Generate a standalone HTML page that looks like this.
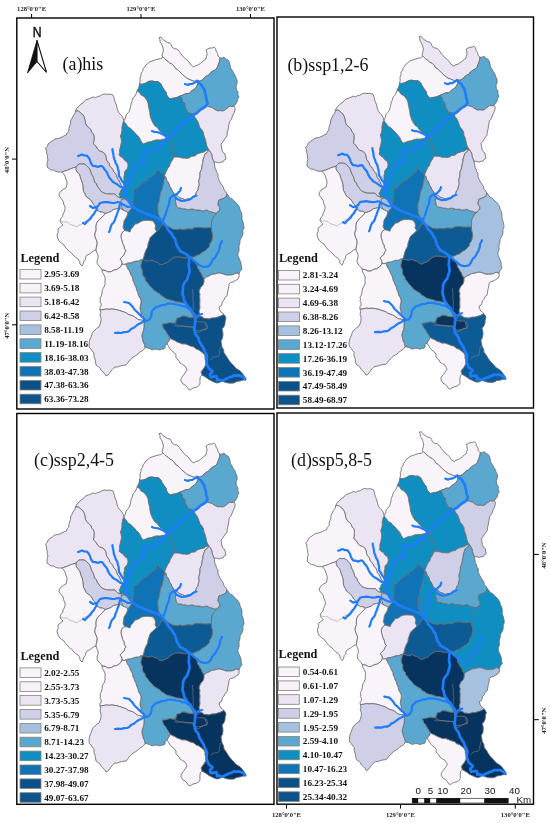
<!DOCTYPE html>
<html><head><meta charset="utf-8"><title>Figure</title>
<style>html,body{margin:0;padding:0;background:#fff}body{width:550px;height:823px;overflow:hidden}svg{display:block}.t{font-family:"Liberation Serif",serif;fill:#111}.lb{font-family:"Liberation Serif",serif;font-weight:bold;font-size:9.2px;fill:#111}.lg{font-family:"Liberation Serif",serif;font-weight:bold;font-size:12.3px;fill:#111}.ax{font-family:"Liberation Serif",serif;font-weight:bold;font-size:6.6px;fill:#222;text-anchor:middle}.sb{font-family:"Liberation Sans",sans-serif;font-size:9.8px;fill:#111}.pg polygon{stroke:#6b6b6b;stroke-width:.85;stroke-linejoin:round}.gl polyline{fill:none;stroke:#8c8c8c;stroke-width:.5}.rv polyline{fill:none;stroke:#1f7dfa;stroke-width:2.2;stroke-linejoin:round;stroke-linecap:round}.rm polyline{fill:none;stroke:#1f7dfa;stroke-width:2.7;stroke-linejoin:round;stroke-linecap:round}.fr{fill:#fff;stroke:#000;stroke-width:1.4}.tk{stroke:#000;stroke-width:1}.sw{stroke:#828282;stroke-width:.8}</style></head><body>
<svg width="550" height="823" viewBox="0 0 550 823">
<rect x="0" y="0" width="550" height="823" fill="#fff"/>
<defs>
<g id="gl" class="gl">
<polyline points="60,221 62.9,221.9 66,222 68.2,222.5 69.8,224.3 72,225 74.6,225.8 77,227 78.7,225.2 81.1,224.5 83,223 84.7,221 87.4,220.1 89,218 90.8,216.2 93,215 94.2,212.8 96,211"/>
<polyline points="192.7,289 192.3,291.8 193.2,294.5 192.8,297.3 193,300 193.4,302.8 193.1,305.5 193.5,308.2 193,311"/>
<polyline points="174,325.5 176.1,326.2 178.3,326.3 180.5,326 183,325.9 185.3,326.7 187.7,327 190.9,327.1 194,328"/>
<polyline points="196,333 198.7,332.5 201,331 203.8,329.4 207,329 207.7,325.5 206,322.7"/>
<polyline points="210.5,360 212,358.2 214,357 216.4,356.8 218.6,356 219.4,354.1 219.5,352 220,349.5 220.5,347"/>
</g>
<g id="rv"><g class="rv">
<polyline points="185,84 188,85 189.9,84 192,84 195,82.4 197,81"/>
<polyline points="152,131 153.9,131.8 156,132 158.1,132.3 160,133 162,134.1 164,135 165.6,136.1 167,137.5"/>
<polyline points="78,156 80.1,155.4 82,154.4 84.4,155.5 87,155.6 88.7,157.7 90,160 90.6,162.2 91.6,164.2 93,166 95.6,166.1 98,167 99.9,166.1 102,166 103.4,167.6 104.5,169.5 106,171 107.2,172.9 108,175 109,177 110.2,178.8 111.7,180.3 113,182 115.6,183.4 118,185 120.3,186.8 123,188 126,190"/>
<polyline points="112.4,149 112.7,151.4 113.3,153.7 113.6,156 114,158.4 115,160.6 115.6,163 116.8,164.8 117.6,166.8 118,169 118.7,171.3 118.8,173.7 119,176 120.7,178.4 122,181 123.9,183.3 125,186"/>
<polyline points="90,206 93,208 95,207.4 97,207 98.6,205.1 100,203 103,202.4 106,202 109,202.4 112,203 115.1,202.8 118,202 120.2,202.6 122,204 124,204.9 126,206 127.9,206.9 130,207"/>
<polyline points="97,207 96.5,209.7 95,212 93.8,214.2 92,216 90.8,218.2 89,220 86.8,221.8 85,224 83,223"/>
<polyline points="120,204 119.4,206.5 119,209 117.9,211.5 117,214 116.4,216 115.4,217.9 115,220 113.8,222.2 112,224 111.1,225.9 110.4,227.9 110,230 109,232"/>
<polyline points="181,188 180,191 178.4,192.4 177,194 174,195 175.4,197.1 177,199 179.4,200.1 182,201 185,200.7 188,200 190.8,198.9 193,197 196.4,195.6"/>
<polyline points="174,195 171.8,196.2 170,198 169.5,201 169,204 168.4,206 167.3,207.9 167,210 166.1,211.9 165.8,214 165,216 164,218.5 163,221"/>
<polyline points="190,257 192.1,258.9 194,261 195.8,262.2 197.5,263.4 199,265 201.4,266.2 204,267 206.5,266.7 209,266 210.8,263.7 212,261 213.1,259.2 214.9,257.9 216,256 216.9,253.9 218.3,252.1 219,250 219.8,247.6 220,245 221.1,243 222,241"/>
<polyline points="191,310 188.4,308.6 186,307 184.1,306.1 181.8,306.2 180,305 177,304.7 174,304 171,303.7 168,303.6 165.1,304.8 162,305 160.1,305.9 158.1,306.5 156,307 154,309 152,311 151.5,314 151,317 149,320 147.1,320.7 145,320.5"/>
<polyline points="124,302 126.5,302.5 129,303 130.5,304.5 132,306 133.3,307.7 134.4,309.5 136,311 138.1,312.9 140,315 141.7,316.6 143.7,318 145,320"/>
<polyline points="115,333 118,332.7 121,333 123.9,332.1 127,332 129.3,330.9 131,329 133.7,327.8 136,326 138.3,324.2 141,323 143.3,321.6 146,321"/>
<polyline points="202,314 199,315 196,317"/>
</g><g class="rm">
<polyline points="197,81 199,83 200.7,84.3 202,86 203.2,88 204.5,90 205,93.1 206,96 206.1,98.6 207,101 207.5,103.5 205.5,106.5 203.7,107.7 201.8,108.7 200,110 198.2,111.8 196.3,113.4 194,114.5 192,116 190,117.5 188,119 186.1,120.8 183.9,122.4 182.3,124.6 180,126 177.9,127.9 176.3,130.3 174,132 172,133.8 170,135.5 168.8,137.1 167,138 165.3,140 163.9,142.2 162,144 160.2,145.9 157.7,147 156,149 154.1,150 152,150.4 150,151 147,151.1 144,151 143.7,153.5 143,156 143.9,158.9 144,162 141.8,162.7 140,164 137.4,164.8 135,166 133.9,168.3 132,170 131.7,172.8 130.4,175.3 130,178 128.6,180.5 128.2,183.4 127,186 126.3,188.1 125,190 126,192.9 126,196 126.5,198.2 128.2,199.9 129,202 130.5,204 132,206 134,207.3 136,208.6 138,210 139.9,211.2 142.1,211.9 144,213 146,213.6 148,214.5 150,215 151.9,216.1 154.1,216.4 156,217.5 158.2,217.9 159.8,219.7 162,220 163,222.2 164.4,224.1 166,226 167.2,228.1 168.4,230.2 170,232 172,234.1 173.2,236.7 175,239 175.6,241.4 176.4,243.6 177,246 178.7,248.4 180,251 182.1,251.9 184,253 186,254 187.8,255.8 190,257 189,259.9 189,263 188.7,265.4 189,267.7 189.6,270 189.4,272.4 188.6,274.7 188,277 187,279.8 185,282 183.9,283.9 183.1,285.8 183,288 182.8,291 182.4,294 183.5,296.9 184,300 185.3,302.6 187,305 188.1,306.9 190,308.1 191,310 192.1,312.3 194,314 195,315.9 195.6,318 195.2,320.5 195,323 194.7,326 194,329 195,330.9 194.9,333.1 196,335 198,337.2 199,340 199.6,342.2 201,344 202,346 203.4,347.8 204.1,350 205,352 206.2,354.4 207,357 206.5,360 206.5,363 207.5,365.5 208.5,368 210.5,369.6 212.5,371.2 211.5,372.9 210,374 210.7,377.2 213.6,376.6 216.5,376.4 217,378.3 217,380.2 219.2,379.7 221.3,380.6 223.5,380.4 225.4,379 227.7,378.4 229.6,377.2 231.9,376.8 233.7,375.4 236.7,375.6 239.7,375.4 241.6,376.4 243.5,377.4 245,379"/>
</g></g>
</defs>
<rect class="fr" x="16.8" y="18" width="257.2" height="391"/>
<rect class="fr" x="277" y="17" width="256.5" height="391"/>
<rect class="fr" x="16.8" y="413.5" width="257.2" height="390.8"/>
<rect class="fr" x="277" y="413" width="256.5" height="391.2"/>
<svg x="16.8" y="18" width="257.2" height="391" viewBox="16.8 18 257.2 391">
<g transform="translate(0 0)">
<g class="pg">
<polygon fill="#f9f3fa" points="159,37.6 161,37 162.7,39.3 165,41 167.3,42.4 170,43 171.3,44.8 172,47 174.2,48.7 177,49 179.3,51.3 181,54 182.9,56.1 184.7,58.3 187,60 189,62 191,65 194,67 195.7,65.5 198,65 200.1,63.6 202,62 203.9,60.4 206,59 206.3,56.9 207,55 206.8,52.4 206,50 207.9,48.9 210,48 212.1,48 214,47 215.6,48.7 216,51 217.6,53.3 218,56 220,58 219.7,60.5 219,63 217.9,65.5 217,68 215.2,69.8 213,71 210.6,72.6 209,75 206.3,76.2 204,78 202.4,80 200,81 197,81 195,81.4 193,81 190.5,79.9 188,79 185.4,77.1 183,75 181.3,73.4 179.7,71.7 178,70 175.5,68.5 174,66 172,64 169.7,63.1 168,61.3 166,60 164.5,58.5 163,57 162,56 162.5,54 163,52 163.4,50 163,48 162.3,45.9 161.4,43.8 160,42 160,39.7"/>
<polygon fill="#f9f3fa" points="163,57 164.5,58.5 166,60 168,61.3 169.7,63.1 172,64 174,66 175.5,68.5 178,70 179.7,71.7 181.3,73.4 183,75 185.4,77.1 188,79 190.5,79.9 193,81 195,81.4 197,81 198,83 197,86 195.4,88.4 193,90 190.8,91.6 189,93.6 185.8,93.6 183,95 180,96 177.6,97.2 175,98 172.5,98.3 170,99 168,97 166.5,94.7 166,92 164.3,90.1 163,88 161.8,86.1 161,84 158,81.6 155,81.6 152,81 148.8,81.3 146,83 143.9,83.8 141.8,84.3 139.5,84 140.2,81 140,78 141,75.6 141,73 142.6,71.3 143,69 144.6,67.1 146,65 147.8,63.4 149.7,61.9 152,61 155,60 158,59 160.8,58.7"/>
<polygon fill="#5aa8d0" points="197,81 200,81 202.4,80 204,78 206.3,76.2 209,75 210.6,72.6 213,71 215.2,69.8 217,68 217.9,65.5 219,63 219.7,60.5 220,58 222.2,58.1 224,57 225.6,59 228,60 229.4,62.3 230,65 230.5,67.7 232,70 233.4,72.5 235,75 235.8,77.6 237,80 237.2,83.1 236,86 236.3,89.2 238,92 237.8,94.6 239,97 237.5,99.3 237,102 235.6,104.1 234,106 232,106.7 230,106 228.1,107.6 226,109 224.3,110.6 222,111 220,110.5 218,111 216,110.1 214,109 212.2,107.6 210,107 208,106.4 206,106 203,108 200.9,109.3 199,111 196.8,113.4 194,115 191.2,113.4 188,113 187.1,110.6 185.7,108.5 185,106 184.7,103.4 182.4,101.6 182,99 180,96 183,95 185.8,93.6 189,93.6 190.8,91.6 193,90 195.4,88.4 197,86 198,83"/>
<polygon fill="#0f8ec2" points="137,91 138.5,88 139.2,86.1 139.5,84 141.8,84.3 143.9,83.8 146,83 148.8,81.3 152,81 155,81.6 158,81.6 161,84 161.8,86.1 163,88 164.3,90.1 166,92 166.5,94.7 168,97 170,99 172.5,98.3 175,98 177.6,97.2 180,96 182,99 182.4,101.6 184.7,103.4 185,106 185.7,108.5 187.1,110.6 188,113 191.2,113.4 194,115 195.2,117.7 197,120 198.2,122.4 199,125 200,127.8 202,130 203.6,132.8 204,136 205.2,138.9 206,142 206.5,144.9 207.5,147.5 209,150 206.3,150.5 204,152 202,152.4 200,153 197.2,154 195,156 191.8,156.3 189,158 186.7,158.4 184.3,158.1 182,158 179.5,157.3 177,157 174,157 174,154.5 173.6,152 172.6,149.1 172,146 171.2,143.7 170.2,141.5 170,139 167,137 165.1,135.9 164,134 161.3,132.3 159,130 157.4,127.6 155,126 153.3,123.6 152,121 150.8,118.1 150,115 149.8,112 149,109 148.4,106 148,103 147.2,100.9 146,99 143.9,96.5 141,95 139.5,92.5"/>
<polygon fill="#0f8ec2" points="124,121 125,123 126.7,124.8 128,127 130.9,128.5 133,131 134.9,132.5 136.3,134.4 138,136 139.8,138.3 141,141 143,144 145.5,143.1 148,142 151.1,141.6 154,140.4 157,139.8 160,140 162.5,139.3 165,139 167,137 170,139 170.2,141.5 171.2,143.7 172,146 172.6,149.1 173.6,152 174,154.5 174,157 173,159 171.5,161.5 170,164 169.6,166.3 167.9,167.9 167,170 165.6,172.9 164.5,176 163.2,173.8 161,172.5 159.3,170.8 157.3,169.6 156.2,172.2 154.3,174 152.4,176 149.5,177.5 147.5,180 144.7,181.4 142.5,183.5 140.2,184.9 138.5,187 136.3,189 133.5,190 134.1,193 133.5,196 133.5,198.7 133.1,201.3 132.7,204 129.5,202 127.2,200.2 124.5,199 122.3,198.1 120,198 120,195.9 119,194 120.3,192.2 121,190 123,188 124,185.4 123.5,182.6 124,180 123.8,177 124.5,174 124.6,171.8 126,170 127.4,168.2 128,166 127.8,163.9 127,162 124.6,160.4 123,158 120.8,156.7 119,155 119.7,152.5 119.5,150 120.4,147 121,144 121.5,141.3 121.1,138.6 120.4,136 121.5,133.1 122,130 121.8,127.6 122.4,125.4 122.8,123.1"/>
<polygon fill="#ebe5f3" points="194,115 196.8,113.4 199,111 200.9,109.3 203,108 206,106 208,106.4 210,107 212.2,107.6 214,109 216,110.1 218,111 220,110.5 222,111 224.3,110.6 226,109 228.1,107.6 230,106 232,106.7 234,106 235.1,107.8 235,110 234.2,112.6 233,115 232,117.5 231,120 229.4,121.7 229,124 228.5,127 228,130 227.2,133 227,136 225.5,138 224,140 222.8,142.2 221,144 221.6,147 222,150 223,152.4 225,154 225.4,156.5 226,159 224.1,160.1 223,162 220.9,162.1 219,163 216.6,162.1 214,162 212.9,159.5 212,157 211.9,154.9 211,153 209,150 207.5,147.5 206.5,144.9 206,142 205.2,138.9 204,136 203.6,132.8 202,130 200,127.8 199,125 198.2,122.4 197,120 195.2,117.7"/>
<polygon fill="#ebe5f3" points="75.4,111 77,108 79.1,106.1 81,104 83,103 84.3,101.2 86,99.8 88.5,99 91,98 93,96.9 95.5,97.7 97.5,96.5 99.8,96.1 101.8,94.8 104,94 107,94.3 110.1,94.1 113,95 113.9,97.3 114.5,99.6 115,102 116.4,104.9 117,108 117.7,110.2 118.5,112.2 120,114 121.8,115.8 123,118 124,121 122.8,123.1 122.4,125.4 121.8,127.6 122,130 121.5,133.1 120.4,136 121.1,138.6 121.5,141.3 121,144 120.4,147 119.5,150 119.7,152.5 119,155 120.8,156.7 123,158 124.6,160.4 127,162 127.8,163.9 128,166 127.4,168.2 126,170 124.6,171.8 124.5,174 123.8,177 124,180 123.5,182.6 124,185.4 123,188 121,185 119.9,182.5 118.7,180 117.1,178.1 116.5,175.7 115.5,173.5 113.7,171.9 112.8,169.6 111.4,167.7 109.7,166.2 109.2,163.9 108,162 106.5,160.1 106.1,157.8 105.6,155.5 104.4,153.4 102.4,152 99.7,151 97.5,149 95.9,146.1 93.4,144 93.8,141.5 94,139 94.1,136.5 93.4,134 91.7,132.3 91,130 89.1,127.8 86.8,126 85.4,123.1 85,120 84.1,117.1 82.7,114.5 80.5,113 78.6,111"/>
<polygon fill="#cfd0e7" points="75.4,111 78.6,111 80.5,113 82.7,114.5 84.1,117.1 85,120 85.4,123.1 86.8,126 89.1,127.8 91,130 91.7,132.3 93.4,134 94.1,136.5 94,139 93.8,141.5 93.4,144 95.9,146.1 97.5,149 99.7,151 102.4,152 104.4,153.4 105.6,155.5 106.1,157.8 106.5,160.1 108,162 109.2,163.9 109.7,166.2 111.4,167.7 112.8,169.6 113.7,171.9 115.5,173.5 116.5,175.7 117.1,178.1 118.7,180 119.9,182.5 121,185 123,188 121,190 120.3,192.2 119,194 120,195.9 120,198 117.1,196.5 115,194 112,194 109,194 106.4,193.8 104,193 101.7,191.9 100,190 98.5,188 97,186 96.5,183.7 94.5,182.3 94,180 93.3,177.5 92.1,175.3 91,173 90.5,170.8 89.5,168.8 88,167 86.2,165.3 84,164 81.5,164 79,164 77.4,165.4 76,167 73,168 70.4,168.8 68,170 65,171 62,172 59,172.1 56,171.5 53.7,170.1 51,170 49,168.5 47,167 47.1,164.6 47.2,162.3 48,160 47.3,157.7 47.4,155.3 46.5,153 46.5,150.4 45.5,148 47.4,146.5 48.1,144 50,142.5 52.5,140.8 55,139 57.4,138.5 59.8,138 62,137 64.1,135.8 66.4,135 67.1,132.7 68.8,131 68.9,128.5 69.6,126 70.6,123.6 70.5,121 71.9,118.6 73,116 74.8,113.8"/>
<polygon fill="#f9f3fa" points="124,121 125.4,118.1 126,115 127.7,113.3 129.2,111.3 130,109 130.6,106.5 131,104 132.2,101.1 133,98 134.9,96 136.2,93.6 137,91 139.5,92.5 141,95 143.9,96.5 146,99 147.2,100.9 148,103 148.4,106 149,109 149.8,112 150,115 150.8,118.1 152,121 153.3,123.6 155,126 157.4,127.6 159,130 161.3,132.3 164,134 165.1,135.9 167,137 165,139 162.5,139.3 160,140 157,139.8 154,140.4 151.1,141.6 148,142 145.5,143.1 143,144 141,141 139.8,138.3 138,136 136.3,134.4 134.9,132.5 133,131 130.9,128.5 128,127 126.7,124.8 125,123"/>
<polygon fill="#1073b6" points="157.3,169.6 159.3,170.8 161,172.5 163.2,173.8 164.5,176 164.9,178.1 163.8,180 163.9,182.6 163,185 162.5,188.1 161.4,191 160.3,193 160.3,195.3 159.7,197.5 159.4,199.7 159,201.9 158,204 157.8,207.2 158,210.5 158.1,213.1 159,215.5 159.8,217.4 161.4,218.7 162.7,221.5 163,224.5 160.9,226.1 159.7,228.5 158.3,230.2 156.5,231.5 155,228.5 155.6,226.2 155,224 153,221 150,220.5 147,220.3 144,220.5 141.9,221 140,222 137.7,223.6 135,224 133.7,226.1 132,228 130.7,229.8 130,232 127.3,231.1 124.5,230.5 123,227 123.7,224 124,221 125.6,218.5 127,216 128,212.5 129.6,210.8 131,209 132,207.1 132,205 132.7,204 133.1,201.3 133.5,198.7 133.5,196 134.1,193 133.5,190 136.3,189 138.5,187 140.2,184.9 142.5,183.5 144.7,181.4 147.5,180 149.5,177.5 152.4,176 154.3,174 156.2,172.2"/>
<polygon fill="#f9f3fa" points="174,157 177,157 179.5,157.3 182,158 184.3,158.1 186.7,158.4 189,158 191.8,156.3 195,156 197.2,154 200,153 202,152.4 204,152 206.3,150.5 209,150 207.4,152.4 205,154 204,157 203,160 203,162.4 202.2,164.6 202,167 201.4,169.7 200.1,172.2 200,175 199.8,177.7 198.8,180.3 199,183 199.2,185.4 198.3,187.7 198,190 196.5,191.7 195.9,193.9 195,196 192.1,196.9 190,199 187.4,198.9 185,200 182.6,198.6 180,198 177.7,196.1 175,195 173.5,192.8 172,190.5 171,188 169.5,186.2 168.9,184.1 168,182 166.5,180.2 166.1,177.8 164.5,176 165.6,172.9 167,170 167.9,167.9 169.6,166.3 170,164 171.5,161.5 173,159"/>
<polygon fill="#cfd0e7" points="76,167 77.4,165.4 79,164 81.5,164 84,164 86.2,165.3 88,167 89.5,168.8 90.5,170.8 91,173 92.1,175.3 93.3,177.5 94,180 94.5,182.3 96.5,183.7 97,186 98.5,188 100,190 101.7,191.9 104,193 106.4,193.8 109,194 112,194 115,194 117.1,196.5 120,198 122.3,198.1 124.5,199 127.2,200.2 129.5,202 132.7,204 132,205 132,207.1 131,209 129.6,210.8 128,212.5 125.8,210.7 123,210 121.2,209.1 120,207.5 118.1,208.5 116,209 113.2,209.7 111,211.5 108.1,212.7 105,213.5 102.7,212.1 100,212 97,210 95.6,208.2 95,206 93.2,204.3 92,202 90.3,199.7 88,198 86,196.4 85,194 83.4,191.2 83,188 82.8,185 82,182 80.8,179.1 80,176 78.9,173.7 77,172 75.9,169.6"/>
<polygon fill="#f9f3fa" points="62,172 65,171 68,170 70.4,168.8 73,168 76,167 75.9,169.6 77,172 78.9,173.7 80,176 80.8,179.1 82,182 82.8,185 83,188 83.4,191.2 85,194 86,196.4 88,198 90.3,199.7 92,202 93.2,204.3 95,206 95.6,208.2 97,210 100,212 102.7,212.1 105,213.5 103.8,215.5 102,217 100.1,219.1 98,221 96.4,223.8 96,227 96.2,230.1 95,233 94.9,236.1 96,239 97.2,241.9 97,245 96.4,247.5 96,250 93.9,250.8 92,252 89.8,253.9 87,255 85.8,256.9 85.5,259.3 84,261 83.2,263.6 82,266 80,264 79.6,261.3 78,259 75.4,257.2 73,255 71.5,253.1 69.5,251.8 68,250 65.7,247.7 64,245 61.4,243.2 59,241 57.7,238.1 57,235 58.2,232.1 58,229 60.5,226.9 63,225 61.2,223.2 60,221 60.7,218.5 62.6,216.6 63,214 64.3,211.8 65,209.5 65,207 63.7,204.1 63,201 61.1,198.4 59,196 59.4,193.2 61,191 63.4,189.3 66,188 66.8,185.1 67,182 65.9,179 65,176 63.6,173.9"/>
<polygon fill="#5aa8d0" points="164.5,176 166.1,177.8 166.5,180.2 168,182 168.9,184.1 169.5,186.2 171,188 172,190.5 173.5,192.8 175,195 175.3,197 175.6,199 175.4,201.5 176,204 176.5,206.2 178,208 180.6,208 183,209 185.6,208.8 188,210 190.4,209 193,209 195.4,210.1 198,210 200.1,210.1 202,211 204.5,210.5 207,210 209.3,211.4 212,212 214.4,212.9 217,213 215.6,214.6 214,216 212.5,219 211.8,220.9 211.5,223 211.4,225.5 211.5,228 208.8,227.8 206,228 203,227.9 200,227.5 197,227.4 194,228 192.2,229.2 190,229 187.5,228.9 185,229.4 182.5,229.7 180,229 177.6,229.8 175,229.5 172.3,229.1 170,227.5 167.8,226.5 166,225 163,224.5 162.7,221.5 161.4,218.7 159.8,217.4 159,215.5 158.1,213.1 158,210.5 157.8,207.2 158,204 159,201.9 159.4,199.7 159.7,197.5 160.3,195.3 160.3,193 161.4,191 162.5,188.1 163,185 163.9,182.6 163.8,180 164.9,178.1"/>
<polygon fill="#cfd0e7" points="209,150 211,153 211.9,154.9 212,157 212.9,159.5 214,162 214.6,165 215,168 216.1,170 216.5,172.3 218,174 217.9,177.1 219,180 220.3,182.6 222,185 223.5,187.3 224,190 225.8,191.8 227,194 226,197 224.1,198.2 222,199 219,200 218.3,202.5 218,205 219.7,207.2 220,210 218.3,211.3 217,213 214.4,212.9 212,212 209.3,211.4 207,210 204.5,210.5 202,211 200.1,210.1 198,210 195.4,210.1 193,209 190.4,209 188,210 185.6,208.8 183,209 180.6,208 178,208 176.5,206.2 176,204 175.4,201.5 175.6,199 175.3,197 175,195 177.7,196.1 180,198 182.6,198.6 185,200 187.4,198.9 190,199 192.1,196.9 195,196 195.9,193.9 196.5,191.7 198,190 198.3,187.7 199.2,185.4 199,183 198.8,180.3 199.8,177.7 200,175 200.1,172.2 201.4,169.7 202,167 202.2,164.6 203,162.4 203,160 204,157 205,154 207.4,152.4"/>
<polygon fill="#0c5088" points="163,224.5 166,225 167.8,226.5 170,227.5 172.3,229.1 175,229.5 177.6,229.8 180,229 182.5,229.7 185,229.4 187.5,228.9 190,229 192.2,229.2 194,228 197,227.4 200,227.5 203,227.9 206,228 208.8,227.8 211.5,228 211.7,231.1 212.5,234 212.7,237 212,240 211.2,242.2 209.7,244.1 209.5,246.5 207.2,248.7 205,251 202.2,252.3 200,254.5 196.9,255.5 194,257 192,257.3 190,257 187.5,257.7 185,258 182.5,257.6 180,257 177.5,257 175,257 172.5,258.5 170,260 168.4,262 166,263 163.9,263.7 162,265 159.2,264.1 157,262 154.3,261.5 152,260 149.6,261 147,261 144.6,260 142,260 143.4,258.2 144,256 144.8,252.9 146,250 147.5,247.2 148,244 149,241 150,238 151.3,236.3 153,235 154.8,233.3 156.5,231.5 158.3,230.2 159.7,228.5 160.9,226.1"/>
<polygon fill="#5aa8d0" points="227,194 228.6,195.9 230,198 232.4,199 234,201 236.2,202.8 238,205 239.6,207.3 240,210 241.6,212.8 242,216 241.9,219.1 243,222 243.7,225 244,228 242.8,230.4 243,233 242.5,235.6 241.4,237.8 240,240 240,242.7 239.1,245.3 239,248 239.1,250.7 237.9,253.3 238,256 239.1,258.3 240.1,260.6 241,263 241.2,266.1 242,269 240.1,271.2 239,274 236,273 233.7,274.4 231,275 228.5,275.1 226,275 223,273.9 220,273 217.4,273.2 215,274 211.8,274.4 209,276 206.3,277.1 204,279 202,276 201.4,273.8 199.9,272 199,270 197.5,267.7 197,265 195.7,262.4 194,260 192,258.4 190,257 192,257.3 194,257 196.9,255.5 200,254.5 202.2,252.3 205,251 207.2,248.7 209.5,246.5 209.7,244.1 211.2,242.2 212,240 212.7,237 212.5,234 211.7,231.1 211.5,228 211.4,225.5 211.5,223 211.8,220.9 212.5,219 214,216 215.6,214.6 217,213 218.3,211.3 220,210 219.7,207.2 218,205 218.3,202.5 219,200 222,199 224.1,198.2 226,197"/>
<polygon fill="#0c5088" points="142,260 144.6,260 147,261 149.6,261 152,260 154.3,261.5 157,262 159.2,264.1 162,265 163.9,263.7 166,263 168.4,262 170,260 172.5,258.5 175,257 177.5,257 180,257 182.5,257.6 185,258 187.5,257.7 190,257 192,258.4 194,260 195.7,262.4 197,265 197.5,267.7 199,270 199.9,272 201.4,273.8 202,276 204,279 204,282 203.1,284.8 201,287 199.5,290 199.1,292.1 200,294 199.6,297 200,300 199.8,302.7 199.8,305.3 200,308 199.1,310.9 199.5,314 200,316.5 198.3,317.5 197,319 193.5,317.5 192.7,315.3 192,313 190,310.8 189,308 188.2,305.9 187,304 184.6,303.2 182,303 179.1,302.1 176,302 173.1,300.7 170,300 167.8,299.4 165.7,298.6 164,297 161.7,296.2 160.2,294 158,293 155.8,291.5 153.6,290.2 152,288 150.2,286.2 148.4,284.2 147,282 145.2,280.3 144.9,277.6 143,276 142.3,273.3 142.4,270.5 141,268 140.8,265.3 141.6,262.7"/>
<polygon fill="#f9f3fa" points="204,279 206.3,277.1 209,276 211.8,274.4 215,274 217.4,273.2 220,273 223,273.9 226,275 228.5,275.1 231,275 233.7,274.4 236,273 239,274 239.2,276.6 238,279 235.5,280.5 233,282 230.7,282.4 229,284 228.8,287 228,290 227.5,293 227,296 224.9,297.6 224,300 222.3,301.7 222,304 221,306 219,307 219.7,309.6 221,312 222.6,313.2 224,314.5 222,315.5 220,316.5 217.5,317.2 215,318 211.9,318.1 209,319 206.5,318.7 204,318.5 202.3,317 200,316.5 199.5,314 199.1,310.9 200,308 199.8,305.3 199.8,302.7 200,300 199.6,297 200,294 199.1,292.1 199.5,290 201,287 203.1,284.8 204,282"/>
<polygon fill="#0c5088" points="170,338 168,335 166.5,332.5 165,330 163.4,328.3 162.7,326.2 162,324 165,323.7 168,323 170.3,322.4 172.7,323.1 175,323 175.9,320.5 177,318 179.8,317.7 182,316 185.1,315.8 188,317 190.7,317.6 193.5,317.5 197,319 198.3,317.5 200,316.5 202.3,317 204,318.5 206.5,318.7 209,319 211.9,318.1 215,318 217.5,317.2 220,316.5 222,315.5 224,314.5 225.2,316.1 226,318 225.2,320.9 225,324 223.9,326.8 222,329 222.8,331.9 223,335 222.5,338.2 221,341 221.5,344 222,347 223.6,349.8 224,353 225.5,354.9 226.9,356.9 228,359 229.9,361.6 232,364 233.7,365.6 235.2,367.5 237,369 239.8,370.6 242,373 243.5,375 245,377 246,380 242.9,380.1 240,381 236.8,381.4 234,383 231,383.2 228,383 224.9,382.2 222,381 219.7,382.5 217,383 214.4,382.2 212,381 209.3,379.8 207,378 204.5,376.5 202,375 201,372 202.4,369.9 204,368 205,366 206,364 206.2,361.4 205,359 205,356.4 204,354 201.5,352 199,350 196.2,349.1 194,347 190.9,346.2 188,345 185.1,343.9 182,344 179.6,342.9 177,342 174.6,340.5 172,339.5"/>
<polygon fill="#0c5088" points="175.5,324.5 177,318 182,316 188,317 193.5,317.5 195,321.5 205,322 206.5,328.5 201,330.5 195.5,331 194,327 187.7,326.5 180.5,326"/>
<polygon fill="#5aa8d0" points="126,264 127.9,262.9 130,263 133,262 136,261 138.7,261 141,259.5 142,260 141.6,262.7 140.8,265.3 141,268 142.4,270.5 142.3,273.3 143,276 144.9,277.6 145.2,280.3 147,282 148.4,284.2 150.2,286.2 152,288 153.6,290.2 155.8,291.5 158,293 160.2,294 161.7,296.2 164,297 165.7,298.6 167.8,299.4 170,300 173.1,300.7 176,302 179.1,302.1 182,303 184.6,303.2 187,304 188.2,305.9 189,308 190,310.8 192,313 192.7,315.3 193.5,317.5 190.7,317.6 188,317 185.1,315.8 182,316 179.8,317.7 177,318 175.9,320.5 175,323 172.7,323.1 170.3,322.4 168,323 165,323.7 162,324 162.7,326.2 163.4,328.3 165,330 166.5,332.5 168,335 170,338 169.6,340.3 168,342 167,344 165,345 165.2,347.2 164,349 161.9,349.1 160,350 158,349.4 156,349 153.9,349.2 152,350 150.1,348.8 148,348 145,347.5 144.5,344.5 143.2,341.9 142.5,339 141.8,336 142.5,333 143.5,330.1 144,327 144,323.8 144,320.5 142.7,317.6 141,315 140.9,311.9 140,309 140.3,306 141,303 141,300.4 140,298 138.5,295.7 138,293 136.7,290.1 136,287 134.7,285.1 134.2,282.9 133,281 132.6,277.8 131,275 130.1,272.9 129.3,270.8 128,269 126.8,266.6"/>
<polygon fill="#f9f3fa" points="124.5,230.5 127.3,231.1 130,232 130.7,229.8 132,228 133.7,226.1 135,224 137.7,223.6 140,222 141.9,221 144,220.5 147,220.3 150,220.5 153,221 155,224 155.6,226.2 155,228.5 156.5,231.5 154.8,233.3 153,235 151.3,236.3 150,238 149,241 148,244 147.5,247.2 146,250 144.8,252.9 144,256 143.4,258.2 142,260 141,259.5 138.7,261 136,261 133,262 130,263 127.9,262.9 126,264 124,264.5 122,264 121.6,261.3 120,259 121.9,256.9 124,255 124.5,252.8 126,251 124.4,248.7 124,246 122.7,243.6 122,241 121.1,238.1 121,235 122.2,232.3"/>
<polygon fill="#f9f3fa" points="170,338 172,339.5 174.6,340.5 177,342 179.6,342.9 182,344 185.1,343.9 188,345 190.9,346.2 194,347 196.2,349.1 199,350 201.5,352 204,354 205,356.4 205,359 206.2,361.4 206,364 205,366 204,368 202.4,369.9 201,372 202,375 200.4,376.7 200,379 199.9,381.5 200,384 198.8,385.8 197,387 195,387.6 193,388 190,390 188.1,388.9 187,387 185.3,385.1 183,384 181,381 181,378.9 182,377 183.6,375.1 185,373 187,370 186.1,368 185,366 182.5,364.5 180,363 178.9,360.7 177,359 175.8,357.2 176,355 174.3,352.7 172,351 170.2,349.2 169,347 167,344 168,342 169.6,340.3"/>
<polygon fill="#f9f3fa" points="105,213.5 108.1,212.7 111,211.5 113.2,209.7 116,209 118.1,208.5 120,207.5 121.2,209.1 123,210 125.8,210.7 128,212.5 127,216 125.6,218.5 124,221 123.7,224 123,227 124.5,230.5 122.2,232.3 121,235 121.1,238.1 122,241 122.7,243.6 124,246 124.4,248.7 126,251 124.5,252.8 124,255 121.9,256.9 120,259 121.6,261.3 122,264 121,266.4 119,268 116.8,269.6 114,270 111.2,271.7 108,272 105.2,270.4 102,270 100.7,267.8 99,266 97.3,263.8 97,261 98,258.1 98,255 96.8,252.6 96,250 96.4,247.5 97,245 97.2,241.9 96,239 94.9,236.1 95,233 96.2,230.1 96,227 96.4,223.8 98,221 100.1,219.1 102,217 103.8,215.5"/>
<polygon fill="#f9f3fa" points="102,270 105.2,270.4 108,272 111.2,271.7 114,270 116.8,269.6 119,268 121,266.4 122,264 124,264.5 126,264 126.8,266.6 128,269 129.3,270.8 130.1,272.9 131,275 132.6,277.8 133,281 134.2,282.9 134.7,285.1 136,287 136.7,290.1 138,293 138.5,295.7 140,298 141,300.4 141,303 140.3,306 140,309 140.9,311.9 141,315 142.7,317.6 144,320.5 141,320 138.3,319.6 136,318 134.2,316.6 132.2,315.6 130,315 127.9,314.2 126.1,312.8 124,312 121,311 118,310 115,309.4 112,309 109,309.3 106,309 103,309.7 100,310 99.8,307.8 101,306 101.2,303.8 100,302 100.5,300 100,298 101.4,295.7 102,293 102.3,289.8 104,287 105.1,284.1 105,281 105.2,277.9 104,275 102.5,272.7"/>
<polygon fill="#ebe5f3" points="100,310 103,309.7 106,309 109,309.3 112,309 115,309.4 118,310 121,311 124,312 126.1,312.8 127.9,314.2 130,315 132.2,315.6 134.2,316.6 136,318 138.3,319.6 141,320 144,320.5 144,323.8 144,327 143.5,330.1 142.5,333 141.8,336 142.5,339 143.2,341.9 144.5,344.5 145,347.5 143.8,349.5 142,351 139.7,352.1 138,354 135.6,355.7 133,357 131.2,359.2 129,361 127.6,363.1 126,365 123,365.3 120,366 117.6,367 115,367 112.8,368.8 111,371 109.6,373.1 108,375 106,376 104.8,373.8 103,372 101.1,370.3 100,368 98.1,366.4 96,365 95.5,362 95,359 93.9,356.1 94,353 92.3,351.1 91,349 89.3,347.3 89,345 89.3,342 90,339 91.2,336.6 92,334 93.1,331.7 95,330 96.8,328.2 99,327 100.2,324.1 101,321 101,317.9 100,315 100.7,312.5"/>
<polygon fill="#a6c1e0" points="121,199.5 124.5,199 129.5,202 132.7,204 132,205 131,209 128,212.5 123,210 121.5,206"/>
</g>
<use href="#gl"/><use href="#rv"/>
</g>
<text class="lg" x="20.4" y="262">Legend</text>
<rect class="sw" x="20" y="269.4" width="21" height="9.6" fill="#f9f3fa"/>
<text class="lb" x="44.2" y="277.4">2.95-3.69</text>
<rect class="sw" x="20" y="283.3" width="21" height="9.6" fill="#f7f1f8"/>
<text class="lb" x="44.2" y="291.3">3.69-5.18</text>
<rect class="sw" x="20" y="297.1" width="21" height="9.6" fill="#ebe5f3"/>
<text class="lb" x="44.2" y="305.1">5.18-6.42</text>
<rect class="sw" x="20" y="311" width="21" height="9.6" fill="#cfd0e7"/>
<text class="lb" x="44.2" y="319">6.42-8.58</text>
<rect class="sw" x="20" y="324.9" width="21" height="9.6" fill="#a6c1e0"/>
<text class="lb" x="44.2" y="332.9">8.58-11.19</text>
<rect class="sw" x="20" y="338.8" width="21" height="9.6" fill="#5aa8d0"/>
<text class="lb" x="44.2" y="346.8">11.19-18.16</text>
<rect class="sw" x="20" y="352.6" width="21" height="9.6" fill="#0f8ec2"/>
<text class="lb" x="44.2" y="360.6">18.16-38.03</text>
<rect class="sw" x="20" y="366.5" width="21" height="9.6" fill="#1073b6"/>
<text class="lb" x="44.2" y="374.5">38.03-47.38</text>
<rect class="sw" x="20" y="380.4" width="21" height="9.6" fill="#0c5088"/>
<text class="lb" x="44.2" y="388.4">47.38-63.36</text>
<rect class="sw" x="20" y="394.2" width="21" height="9.6" fill="#0d5289"/>
<text class="lb" x="44.2" y="402.2">63.36-73.28</text>
<text class="t" font-size="17.9" x="62.5" y="69.6">(a)his</text>
</svg>
<svg x="277" y="17" width="256.5" height="391" viewBox="277 17 256.5 391">
<g transform="translate(260 -0.8)">
<g class="pg">
<polygon fill="#ebe5f3" points="159,37.6 161,37 162.7,39.3 165,41 167.3,42.4 170,43 171.3,44.8 172,47 174.2,48.7 177,49 179.3,51.3 181,54 182.9,56.1 184.7,58.3 187,60 189,62 191,65 194,67 195.7,65.5 198,65 200.1,63.6 202,62 203.9,60.4 206,59 206.3,56.9 207,55 206.8,52.4 206,50 207.9,48.9 210,48 212.1,48 214,47 215.6,48.7 216,51 217.6,53.3 218,56 220,58 219.7,60.5 219,63 217.9,65.5 217,68 215.2,69.8 213,71 210.6,72.6 209,75 206.3,76.2 204,78 202.4,80 200,81 197,81 195,81.4 193,81 190.5,79.9 188,79 185.4,77.1 183,75 181.3,73.4 179.7,71.7 178,70 175.5,68.5 174,66 172,64 169.7,63.1 168,61.3 166,60 164.5,58.5 163,57 162,56 162.5,54 163,52 163.4,50 163,48 162.3,45.9 161.4,43.8 160,42 160,39.7"/>
<polygon fill="#f9f3fa" points="163,57 164.5,58.5 166,60 168,61.3 169.7,63.1 172,64 174,66 175.5,68.5 178,70 179.7,71.7 181.3,73.4 183,75 185.4,77.1 188,79 190.5,79.9 193,81 195,81.4 197,81 198,83 197,86 195.4,88.4 193,90 190.8,91.6 189,93.6 185.8,93.6 183,95 180,96 177.6,97.2 175,98 172.5,98.3 170,99 168,97 166.5,94.7 166,92 164.3,90.1 163,88 161.8,86.1 161,84 158,81.6 155,81.6 152,81 148.8,81.3 146,83 143.9,83.8 141.8,84.3 139.5,84 140.2,81 140,78 141,75.6 141,73 142.6,71.3 143,69 144.6,67.1 146,65 147.8,63.4 149.7,61.9 152,61 155,60 158,59 160.8,58.7"/>
<polygon fill="#5aa8d0" points="197,81 200,81 202.4,80 204,78 206.3,76.2 209,75 210.6,72.6 213,71 215.2,69.8 217,68 217.9,65.5 219,63 219.7,60.5 220,58 222.2,58.1 224,57 225.6,59 228,60 229.4,62.3 230,65 230.5,67.7 232,70 233.4,72.5 235,75 235.8,77.6 237,80 237.2,83.1 236,86 236.3,89.2 238,92 237.8,94.6 239,97 237.5,99.3 237,102 235.6,104.1 234,106 232,106.7 230,106 228.1,107.6 226,109 224.3,110.6 222,111 220,110.5 218,111 216,110.1 214,109 212.2,107.6 210,107 208,106.4 206,106 203,108 200.9,109.3 199,111 196.8,113.4 194,115 191.2,113.4 188,113 187.1,110.6 185.7,108.5 185,106 184.7,103.4 182.4,101.6 182,99 180,96 183,95 185.8,93.6 189,93.6 190.8,91.6 193,90 195.4,88.4 197,86 198,83"/>
<polygon fill="#0f8ec2" points="137,91 138.5,88 139.2,86.1 139.5,84 141.8,84.3 143.9,83.8 146,83 148.8,81.3 152,81 155,81.6 158,81.6 161,84 161.8,86.1 163,88 164.3,90.1 166,92 166.5,94.7 168,97 170,99 172.5,98.3 175,98 177.6,97.2 180,96 182,99 182.4,101.6 184.7,103.4 185,106 185.7,108.5 187.1,110.6 188,113 191.2,113.4 194,115 195.2,117.7 197,120 198.2,122.4 199,125 200,127.8 202,130 203.6,132.8 204,136 205.2,138.9 206,142 206.5,144.9 207.5,147.5 209,150 206.3,150.5 204,152 202,152.4 200,153 197.2,154 195,156 191.8,156.3 189,158 186.7,158.4 184.3,158.1 182,158 179.5,157.3 177,157 174,157 174,154.5 173.6,152 172.6,149.1 172,146 171.2,143.7 170.2,141.5 170,139 167,137 165.1,135.9 164,134 161.3,132.3 159,130 157.4,127.6 155,126 153.3,123.6 152,121 150.8,118.1 150,115 149.8,112 149,109 148.4,106 148,103 147.2,100.9 146,99 143.9,96.5 141,95 139.5,92.5"/>
<polygon fill="#0f8ec2" points="124,121 125,123 126.7,124.8 128,127 130.9,128.5 133,131 134.9,132.5 136.3,134.4 138,136 139.8,138.3 141,141 143,144 145.5,143.1 148,142 151.1,141.6 154,140.4 157,139.8 160,140 162.5,139.3 165,139 167,137 170,139 170.2,141.5 171.2,143.7 172,146 172.6,149.1 173.6,152 174,154.5 174,157 173,159 171.5,161.5 170,164 169.6,166.3 167.9,167.9 167,170 165.6,172.9 164.5,176 163.2,173.8 161,172.5 159.3,170.8 157.3,169.6 156.2,172.2 154.3,174 152.4,176 149.5,177.5 147.5,180 144.7,181.4 142.5,183.5 140.2,184.9 138.5,187 136.3,189 133.5,190 134.1,193 133.5,196 133.5,198.7 133.1,201.3 132.7,204 129.5,202 127.2,200.2 124.5,199 122.3,198.1 120,198 120,195.9 119,194 120.3,192.2 121,190 123,188 124,185.4 123.5,182.6 124,180 123.8,177 124.5,174 124.6,171.8 126,170 127.4,168.2 128,166 127.8,163.9 127,162 124.6,160.4 123,158 120.8,156.7 119,155 119.7,152.5 119.5,150 120.4,147 121,144 121.5,141.3 121.1,138.6 120.4,136 121.5,133.1 122,130 121.8,127.6 122.4,125.4 122.8,123.1"/>
<polygon fill="#ebe5f3" points="194,115 196.8,113.4 199,111 200.9,109.3 203,108 206,106 208,106.4 210,107 212.2,107.6 214,109 216,110.1 218,111 220,110.5 222,111 224.3,110.6 226,109 228.1,107.6 230,106 232,106.7 234,106 235.1,107.8 235,110 234.2,112.6 233,115 232,117.5 231,120 229.4,121.7 229,124 228.5,127 228,130 227.2,133 227,136 225.5,138 224,140 222.8,142.2 221,144 221.6,147 222,150 223,152.4 225,154 225.4,156.5 226,159 224.1,160.1 223,162 220.9,162.1 219,163 216.6,162.1 214,162 212.9,159.5 212,157 211.9,154.9 211,153 209,150 207.5,147.5 206.5,144.9 206,142 205.2,138.9 204,136 203.6,132.8 202,130 200,127.8 199,125 198.2,122.4 197,120 195.2,117.7"/>
<polygon fill="#ebe5f3" points="75.4,111 77,108 79.1,106.1 81,104 83,103 84.3,101.2 86,99.8 88.5,99 91,98 93,96.9 95.5,97.7 97.5,96.5 99.8,96.1 101.8,94.8 104,94 107,94.3 110.1,94.1 113,95 113.9,97.3 114.5,99.6 115,102 116.4,104.9 117,108 117.7,110.2 118.5,112.2 120,114 121.8,115.8 123,118 124,121 122.8,123.1 122.4,125.4 121.8,127.6 122,130 121.5,133.1 120.4,136 121.1,138.6 121.5,141.3 121,144 120.4,147 119.5,150 119.7,152.5 119,155 120.8,156.7 123,158 124.6,160.4 127,162 127.8,163.9 128,166 127.4,168.2 126,170 124.6,171.8 124.5,174 123.8,177 124,180 123.5,182.6 124,185.4 123,188 121,185 119.9,182.5 118.7,180 117.1,178.1 116.5,175.7 115.5,173.5 113.7,171.9 112.8,169.6 111.4,167.7 109.7,166.2 109.2,163.9 108,162 106.5,160.1 106.1,157.8 105.6,155.5 104.4,153.4 102.4,152 99.7,151 97.5,149 95.9,146.1 93.4,144 93.8,141.5 94,139 94.1,136.5 93.4,134 91.7,132.3 91,130 89.1,127.8 86.8,126 85.4,123.1 85,120 84.1,117.1 82.7,114.5 80.5,113 78.6,111"/>
<polygon fill="#cfd0e7" points="75.4,111 78.6,111 80.5,113 82.7,114.5 84.1,117.1 85,120 85.4,123.1 86.8,126 89.1,127.8 91,130 91.7,132.3 93.4,134 94.1,136.5 94,139 93.8,141.5 93.4,144 95.9,146.1 97.5,149 99.7,151 102.4,152 104.4,153.4 105.6,155.5 106.1,157.8 106.5,160.1 108,162 109.2,163.9 109.7,166.2 111.4,167.7 112.8,169.6 113.7,171.9 115.5,173.5 116.5,175.7 117.1,178.1 118.7,180 119.9,182.5 121,185 123,188 121,190 120.3,192.2 119,194 120,195.9 120,198 117.1,196.5 115,194 112,194 109,194 106.4,193.8 104,193 101.7,191.9 100,190 98.5,188 97,186 96.5,183.7 94.5,182.3 94,180 93.3,177.5 92.1,175.3 91,173 90.5,170.8 89.5,168.8 88,167 86.2,165.3 84,164 81.5,164 79,164 77.4,165.4 76,167 73,168 70.4,168.8 68,170 65,171 62,172 59,172.1 56,171.5 53.7,170.1 51,170 49,168.5 47,167 47.1,164.6 47.2,162.3 48,160 47.3,157.7 47.4,155.3 46.5,153 46.5,150.4 45.5,148 47.4,146.5 48.1,144 50,142.5 52.5,140.8 55,139 57.4,138.5 59.8,138 62,137 64.1,135.8 66.4,135 67.1,132.7 68.8,131 68.9,128.5 69.6,126 70.6,123.6 70.5,121 71.9,118.6 73,116 74.8,113.8"/>
<polygon fill="#f9f3fa" points="124,121 125.4,118.1 126,115 127.7,113.3 129.2,111.3 130,109 130.6,106.5 131,104 132.2,101.1 133,98 134.9,96 136.2,93.6 137,91 139.5,92.5 141,95 143.9,96.5 146,99 147.2,100.9 148,103 148.4,106 149,109 149.8,112 150,115 150.8,118.1 152,121 153.3,123.6 155,126 157.4,127.6 159,130 161.3,132.3 164,134 165.1,135.9 167,137 165,139 162.5,139.3 160,140 157,139.8 154,140.4 151.1,141.6 148,142 145.5,143.1 143,144 141,141 139.8,138.3 138,136 136.3,134.4 134.9,132.5 133,131 130.9,128.5 128,127 126.7,124.8 125,123"/>
<polygon fill="#1073b6" points="157.3,169.6 159.3,170.8 161,172.5 163.2,173.8 164.5,176 164.9,178.1 163.8,180 163.9,182.6 163,185 162.5,188.1 161.4,191 160.3,193 160.3,195.3 159.7,197.5 159.4,199.7 159,201.9 158,204 157.8,207.2 158,210.5 158.1,213.1 159,215.5 159.8,217.4 161.4,218.7 162.7,221.5 163,224.5 160.9,226.1 159.7,228.5 158.3,230.2 156.5,231.5 155,228.5 155.6,226.2 155,224 153,221 150,220.5 147,220.3 144,220.5 141.9,221 140,222 137.7,223.6 135,224 133.7,226.1 132,228 130.7,229.8 130,232 127.3,231.1 124.5,230.5 123,227 123.7,224 124,221 125.6,218.5 127,216 128,212.5 129.6,210.8 131,209 132,207.1 132,205 132.7,204 133.1,201.3 133.5,198.7 133.5,196 134.1,193 133.5,190 136.3,189 138.5,187 140.2,184.9 142.5,183.5 144.7,181.4 147.5,180 149.5,177.5 152.4,176 154.3,174 156.2,172.2"/>
<polygon fill="#ebe5f3" points="174,157 177,157 179.5,157.3 182,158 184.3,158.1 186.7,158.4 189,158 191.8,156.3 195,156 197.2,154 200,153 202,152.4 204,152 206.3,150.5 209,150 207.4,152.4 205,154 204,157 203,160 203,162.4 202.2,164.6 202,167 201.4,169.7 200.1,172.2 200,175 199.8,177.7 198.8,180.3 199,183 199.2,185.4 198.3,187.7 198,190 196.5,191.7 195.9,193.9 195,196 192.1,196.9 190,199 187.4,198.9 185,200 182.6,198.6 180,198 177.7,196.1 175,195 173.5,192.8 172,190.5 171,188 169.5,186.2 168.9,184.1 168,182 166.5,180.2 166.1,177.8 164.5,176 165.6,172.9 167,170 167.9,167.9 169.6,166.3 170,164 171.5,161.5 173,159"/>
<polygon fill="#cfd0e7" points="76,167 77.4,165.4 79,164 81.5,164 84,164 86.2,165.3 88,167 89.5,168.8 90.5,170.8 91,173 92.1,175.3 93.3,177.5 94,180 94.5,182.3 96.5,183.7 97,186 98.5,188 100,190 101.7,191.9 104,193 106.4,193.8 109,194 112,194 115,194 117.1,196.5 120,198 122.3,198.1 124.5,199 127.2,200.2 129.5,202 132.7,204 132,205 132,207.1 131,209 129.6,210.8 128,212.5 125.8,210.7 123,210 121.2,209.1 120,207.5 118.1,208.5 116,209 113.2,209.7 111,211.5 108.1,212.7 105,213.5 102.7,212.1 100,212 97,210 95.6,208.2 95,206 93.2,204.3 92,202 90.3,199.7 88,198 86,196.4 85,194 83.4,191.2 83,188 82.8,185 82,182 80.8,179.1 80,176 78.9,173.7 77,172 75.9,169.6"/>
<polygon fill="#f9f3fa" points="62,172 65,171 68,170 70.4,168.8 73,168 76,167 75.9,169.6 77,172 78.9,173.7 80,176 80.8,179.1 82,182 82.8,185 83,188 83.4,191.2 85,194 86,196.4 88,198 90.3,199.7 92,202 93.2,204.3 95,206 95.6,208.2 97,210 100,212 102.7,212.1 105,213.5 103.8,215.5 102,217 100.1,219.1 98,221 96.4,223.8 96,227 96.2,230.1 95,233 94.9,236.1 96,239 97.2,241.9 97,245 96.4,247.5 96,250 93.9,250.8 92,252 89.8,253.9 87,255 85.8,256.9 85.5,259.3 84,261 83.2,263.6 82,266 80,264 79.6,261.3 78,259 75.4,257.2 73,255 71.5,253.1 69.5,251.8 68,250 65.7,247.7 64,245 61.4,243.2 59,241 57.7,238.1 57,235 58.2,232.1 58,229 60.5,226.9 63,225 61.2,223.2 60,221 60.7,218.5 62.6,216.6 63,214 64.3,211.8 65,209.5 65,207 63.7,204.1 63,201 61.1,198.4 59,196 59.4,193.2 61,191 63.4,189.3 66,188 66.8,185.1 67,182 65.9,179 65,176 63.6,173.9"/>
<polygon fill="#5aa8d0" points="164.5,176 166.1,177.8 166.5,180.2 168,182 168.9,184.1 169.5,186.2 171,188 172,190.5 173.5,192.8 175,195 175.3,197 175.6,199 175.4,201.5 176,204 176.5,206.2 178,208 180.6,208 183,209 185.6,208.8 188,210 190.4,209 193,209 195.4,210.1 198,210 200.1,210.1 202,211 204.5,210.5 207,210 209.3,211.4 212,212 214.4,212.9 217,213 215.6,214.6 214,216 212.5,219 211.8,220.9 211.5,223 211.4,225.5 211.5,228 208.8,227.8 206,228 203,227.9 200,227.5 197,227.4 194,228 192.2,229.2 190,229 187.5,228.9 185,229.4 182.5,229.7 180,229 177.6,229.8 175,229.5 172.3,229.1 170,227.5 167.8,226.5 166,225 163,224.5 162.7,221.5 161.4,218.7 159.8,217.4 159,215.5 158.1,213.1 158,210.5 157.8,207.2 158,204 159,201.9 159.4,199.7 159.7,197.5 160.3,195.3 160.3,193 161.4,191 162.5,188.1 163,185 163.9,182.6 163.8,180 164.9,178.1"/>
<polygon fill="#cfd0e7" points="209,150 211,153 211.9,154.9 212,157 212.9,159.5 214,162 214.6,165 215,168 216.1,170 216.5,172.3 218,174 217.9,177.1 219,180 220.3,182.6 222,185 223.5,187.3 224,190 225.8,191.8 227,194 226,197 224.1,198.2 222,199 219,200 218.3,202.5 218,205 219.7,207.2 220,210 218.3,211.3 217,213 214.4,212.9 212,212 209.3,211.4 207,210 204.5,210.5 202,211 200.1,210.1 198,210 195.4,210.1 193,209 190.4,209 188,210 185.6,208.8 183,209 180.6,208 178,208 176.5,206.2 176,204 175.4,201.5 175.6,199 175.3,197 175,195 177.7,196.1 180,198 182.6,198.6 185,200 187.4,198.9 190,199 192.1,196.9 195,196 195.9,193.9 196.5,191.7 198,190 198.3,187.7 199.2,185.4 199,183 198.8,180.3 199.8,177.7 200,175 200.1,172.2 201.4,169.7 202,167 202.2,164.6 203,162.4 203,160 204,157 205,154 207.4,152.4"/>
<polygon fill="#0d5b95" points="163,224.5 166,225 167.8,226.5 170,227.5 172.3,229.1 175,229.5 177.6,229.8 180,229 182.5,229.7 185,229.4 187.5,228.9 190,229 192.2,229.2 194,228 197,227.4 200,227.5 203,227.9 206,228 208.8,227.8 211.5,228 211.7,231.1 212.5,234 212.7,237 212,240 211.2,242.2 209.7,244.1 209.5,246.5 207.2,248.7 205,251 202.2,252.3 200,254.5 196.9,255.5 194,257 192,257.3 190,257 187.5,257.7 185,258 182.5,257.6 180,257 177.5,257 175,257 172.5,258.5 170,260 168.4,262 166,263 163.9,263.7 162,265 159.2,264.1 157,262 154.3,261.5 152,260 149.6,261 147,261 144.6,260 142,260 143.4,258.2 144,256 144.8,252.9 146,250 147.5,247.2 148,244 149,241 150,238 151.3,236.3 153,235 154.8,233.3 156.5,231.5 158.3,230.2 159.7,228.5 160.9,226.1"/>
<polygon fill="#a6c1e0" points="227,194 228.6,195.9 230,198 232.4,199 234,201 236.2,202.8 238,205 239.6,207.3 240,210 241.6,212.8 242,216 241.9,219.1 243,222 243.7,225 244,228 242.8,230.4 243,233 242.5,235.6 241.4,237.8 240,240 240,242.7 239.1,245.3 239,248 239.1,250.7 237.9,253.3 238,256 239.1,258.3 240.1,260.6 241,263 241.2,266.1 242,269 240.1,271.2 239,274 236,273 233.7,274.4 231,275 228.5,275.1 226,275 223,273.9 220,273 217.4,273.2 215,274 211.8,274.4 209,276 206.3,277.1 204,279 202,276 201.4,273.8 199.9,272 199,270 197.5,267.7 197,265 195.7,262.4 194,260 192,258.4 190,257 192,257.3 194,257 196.9,255.5 200,254.5 202.2,252.3 205,251 207.2,248.7 209.5,246.5 209.7,244.1 211.2,242.2 212,240 212.7,237 212.5,234 211.7,231.1 211.5,228 211.4,225.5 211.5,223 211.8,220.9 212.5,219 214,216 215.6,214.6 217,213 218.3,211.3 220,210 219.7,207.2 218,205 218.3,202.5 219,200 222,199 224.1,198.2 226,197"/>
<polygon fill="#07345f" points="142,260 144.6,260 147,261 149.6,261 152,260 154.3,261.5 157,262 159.2,264.1 162,265 163.9,263.7 166,263 168.4,262 170,260 172.5,258.5 175,257 177.5,257 180,257 182.5,257.6 185,258 187.5,257.7 190,257 192,258.4 194,260 195.7,262.4 197,265 197.5,267.7 199,270 199.9,272 201.4,273.8 202,276 204,279 204,282 203.1,284.8 201,287 199.5,290 199.1,292.1 200,294 199.6,297 200,300 199.8,302.7 199.8,305.3 200,308 199.1,310.9 199.5,314 200,316.5 198.3,317.5 197,319 193.5,317.5 192.7,315.3 192,313 190,310.8 189,308 188.2,305.9 187,304 184.6,303.2 182,303 179.1,302.1 176,302 173.1,300.7 170,300 167.8,299.4 165.7,298.6 164,297 161.7,296.2 160.2,294 158,293 155.8,291.5 153.6,290.2 152,288 150.2,286.2 148.4,284.2 147,282 145.2,280.3 144.9,277.6 143,276 142.3,273.3 142.4,270.5 141,268 140.8,265.3 141.6,262.7"/>
<polygon fill="#f9f3fa" points="204,279 206.3,277.1 209,276 211.8,274.4 215,274 217.4,273.2 220,273 223,273.9 226,275 228.5,275.1 231,275 233.7,274.4 236,273 239,274 239.2,276.6 238,279 235.5,280.5 233,282 230.7,282.4 229,284 228.8,287 228,290 227.5,293 227,296 224.9,297.6 224,300 222.3,301.7 222,304 221,306 219,307 219.7,309.6 221,312 222.6,313.2 224,314.5 222,315.5 220,316.5 217.5,317.2 215,318 211.9,318.1 209,319 206.5,318.7 204,318.5 202.3,317 200,316.5 199.5,314 199.1,310.9 200,308 199.8,305.3 199.8,302.7 200,300 199.6,297 200,294 199.1,292.1 199.5,290 201,287 203.1,284.8 204,282"/>
<polygon fill="#0d5b95" points="170,338 168,335 166.5,332.5 165,330 163.4,328.3 162.7,326.2 162,324 165,323.7 168,323 170.3,322.4 172.7,323.1 175,323 175.9,320.5 177,318 179.8,317.7 182,316 185.1,315.8 188,317 190.7,317.6 193.5,317.5 197,319 198.3,317.5 200,316.5 202.3,317 204,318.5 206.5,318.7 209,319 211.9,318.1 215,318 217.5,317.2 220,316.5 222,315.5 224,314.5 225.2,316.1 226,318 225.2,320.9 225,324 223.9,326.8 222,329 222.8,331.9 223,335 222.5,338.2 221,341 221.5,344 222,347 223.6,349.8 224,353 225.5,354.9 226.9,356.9 228,359 229.9,361.6 232,364 233.7,365.6 235.2,367.5 237,369 239.8,370.6 242,373 243.5,375 245,377 246,380 242.9,380.1 240,381 236.8,381.4 234,383 231,383.2 228,383 224.9,382.2 222,381 219.7,382.5 217,383 214.4,382.2 212,381 209.3,379.8 207,378 204.5,376.5 202,375 201,372 202.4,369.9 204,368 205,366 206,364 206.2,361.4 205,359 205,356.4 204,354 201.5,352 199,350 196.2,349.1 194,347 190.9,346.2 188,345 185.1,343.9 182,344 179.6,342.9 177,342 174.6,340.5 172,339.5"/>
<polygon fill="#07345f" points="175.5,324.5 177,318 182,316 188,317 193.5,317.5 195,321.5 205,322 206.5,328.5 201,330.5 195.5,331 194,327 187.7,326.5 180.5,326"/>
<polygon fill="#5aa8d0" points="126,264 127.9,262.9 130,263 133,262 136,261 138.7,261 141,259.5 142,260 141.6,262.7 140.8,265.3 141,268 142.4,270.5 142.3,273.3 143,276 144.9,277.6 145.2,280.3 147,282 148.4,284.2 150.2,286.2 152,288 153.6,290.2 155.8,291.5 158,293 160.2,294 161.7,296.2 164,297 165.7,298.6 167.8,299.4 170,300 173.1,300.7 176,302 179.1,302.1 182,303 184.6,303.2 187,304 188.2,305.9 189,308 190,310.8 192,313 192.7,315.3 193.5,317.5 190.7,317.6 188,317 185.1,315.8 182,316 179.8,317.7 177,318 175.9,320.5 175,323 172.7,323.1 170.3,322.4 168,323 165,323.7 162,324 162.7,326.2 163.4,328.3 165,330 166.5,332.5 168,335 170,338 169.6,340.3 168,342 167,344 165,345 165.2,347.2 164,349 161.9,349.1 160,350 158,349.4 156,349 153.9,349.2 152,350 150.1,348.8 148,348 145,347.5 144.5,344.5 143.2,341.9 142.5,339 141.8,336 142.5,333 143.5,330.1 144,327 144,323.8 144,320.5 142.7,317.6 141,315 140.9,311.9 140,309 140.3,306 141,303 141,300.4 140,298 138.5,295.7 138,293 136.7,290.1 136,287 134.7,285.1 134.2,282.9 133,281 132.6,277.8 131,275 130.1,272.9 129.3,270.8 128,269 126.8,266.6"/>
<polygon fill="#f9f3fa" points="124.5,230.5 127.3,231.1 130,232 130.7,229.8 132,228 133.7,226.1 135,224 137.7,223.6 140,222 141.9,221 144,220.5 147,220.3 150,220.5 153,221 155,224 155.6,226.2 155,228.5 156.5,231.5 154.8,233.3 153,235 151.3,236.3 150,238 149,241 148,244 147.5,247.2 146,250 144.8,252.9 144,256 143.4,258.2 142,260 141,259.5 138.7,261 136,261 133,262 130,263 127.9,262.9 126,264 124,264.5 122,264 121.6,261.3 120,259 121.9,256.9 124,255 124.5,252.8 126,251 124.4,248.7 124,246 122.7,243.6 122,241 121.1,238.1 121,235 122.2,232.3"/>
<polygon fill="#f9f3fa" points="170,338 172,339.5 174.6,340.5 177,342 179.6,342.9 182,344 185.1,343.9 188,345 190.9,346.2 194,347 196.2,349.1 199,350 201.5,352 204,354 205,356.4 205,359 206.2,361.4 206,364 205,366 204,368 202.4,369.9 201,372 202,375 200.4,376.7 200,379 199.9,381.5 200,384 198.8,385.8 197,387 195,387.6 193,388 190,390 188.1,388.9 187,387 185.3,385.1 183,384 181,381 181,378.9 182,377 183.6,375.1 185,373 187,370 186.1,368 185,366 182.5,364.5 180,363 178.9,360.7 177,359 175.8,357.2 176,355 174.3,352.7 172,351 170.2,349.2 169,347 167,344 168,342 169.6,340.3"/>
<polygon fill="#f9f3fa" points="105,213.5 108.1,212.7 111,211.5 113.2,209.7 116,209 118.1,208.5 120,207.5 121.2,209.1 123,210 125.8,210.7 128,212.5 127,216 125.6,218.5 124,221 123.7,224 123,227 124.5,230.5 122.2,232.3 121,235 121.1,238.1 122,241 122.7,243.6 124,246 124.4,248.7 126,251 124.5,252.8 124,255 121.9,256.9 120,259 121.6,261.3 122,264 121,266.4 119,268 116.8,269.6 114,270 111.2,271.7 108,272 105.2,270.4 102,270 100.7,267.8 99,266 97.3,263.8 97,261 98,258.1 98,255 96.8,252.6 96,250 96.4,247.5 97,245 97.2,241.9 96,239 94.9,236.1 95,233 96.2,230.1 96,227 96.4,223.8 98,221 100.1,219.1 102,217 103.8,215.5"/>
<polygon fill="#f9f3fa" points="102,270 105.2,270.4 108,272 111.2,271.7 114,270 116.8,269.6 119,268 121,266.4 122,264 124,264.5 126,264 126.8,266.6 128,269 129.3,270.8 130.1,272.9 131,275 132.6,277.8 133,281 134.2,282.9 134.7,285.1 136,287 136.7,290.1 138,293 138.5,295.7 140,298 141,300.4 141,303 140.3,306 140,309 140.9,311.9 141,315 142.7,317.6 144,320.5 141,320 138.3,319.6 136,318 134.2,316.6 132.2,315.6 130,315 127.9,314.2 126.1,312.8 124,312 121,311 118,310 115,309.4 112,309 109,309.3 106,309 103,309.7 100,310 99.8,307.8 101,306 101.2,303.8 100,302 100.5,300 100,298 101.4,295.7 102,293 102.3,289.8 104,287 105.1,284.1 105,281 105.2,277.9 104,275 102.5,272.7"/>
<polygon fill="#ebe5f3" points="100,310 103,309.7 106,309 109,309.3 112,309 115,309.4 118,310 121,311 124,312 126.1,312.8 127.9,314.2 130,315 132.2,315.6 134.2,316.6 136,318 138.3,319.6 141,320 144,320.5 144,323.8 144,327 143.5,330.1 142.5,333 141.8,336 142.5,339 143.2,341.9 144.5,344.5 145,347.5 143.8,349.5 142,351 139.7,352.1 138,354 135.6,355.7 133,357 131.2,359.2 129,361 127.6,363.1 126,365 123,365.3 120,366 117.6,367 115,367 112.8,368.8 111,371 109.6,373.1 108,375 106,376 104.8,373.8 103,372 101.1,370.3 100,368 98.1,366.4 96,365 95.5,362 95,359 93.9,356.1 94,353 92.3,351.1 91,349 89.3,347.3 89,345 89.3,342 90,339 91.2,336.6 92,334 93.1,331.7 95,330 96.8,328.2 99,327 100.2,324.1 101,321 101,317.9 100,315 100.7,312.5"/>
<polygon fill="#a6c1e0" points="121,199.5 124.5,199 129.5,202 132.7,204 132,205 131,209 128,212.5 123,210 121.5,206"/>
</g>
<use href="#gl"/><use href="#rv"/>
</g>
<text class="lg" x="278.9" y="262">Legend</text>
<rect class="sw" x="278.5" y="270.4" width="21" height="9.6" fill="#f9f3fa"/>
<text class="lb" x="302.8" y="278.4">2.81-3.24</text>
<rect class="sw" x="278.5" y="284.3" width="21" height="9.6" fill="#f7f1f8"/>
<text class="lb" x="302.8" y="292.3">3.24-4.69</text>
<rect class="sw" x="278.5" y="298.1" width="21" height="9.6" fill="#ebe5f3"/>
<text class="lb" x="302.8" y="306.1">4.69-6.38</text>
<rect class="sw" x="278.5" y="312" width="21" height="9.6" fill="#cfd0e7"/>
<text class="lb" x="302.8" y="320">6.38-8.26</text>
<rect class="sw" x="278.5" y="325.9" width="21" height="9.6" fill="#a6c1e0"/>
<text class="lb" x="302.8" y="333.9">8.26-13.12</text>
<rect class="sw" x="278.5" y="339.8" width="21" height="9.6" fill="#5aa8d0"/>
<text class="lb" x="302.8" y="347.8">13.12-17.26</text>
<rect class="sw" x="278.5" y="353.6" width="21" height="9.6" fill="#0f8ec2"/>
<text class="lb" x="302.8" y="361.6">17.26-36.19</text>
<rect class="sw" x="278.5" y="367.5" width="21" height="9.6" fill="#1073b6"/>
<text class="lb" x="302.8" y="375.5">36.19-47.49</text>
<rect class="sw" x="278.5" y="381.4" width="21" height="9.6" fill="#0c5088"/>
<text class="lb" x="302.8" y="389.4">47.49-58.49</text>
<rect class="sw" x="278.5" y="395.2" width="21" height="9.6" fill="#0d5289"/>
<text class="lb" x="302.8" y="403.2">58.49-68.97</text>
<text class="t" font-size="17.9" x="287.4" y="70.5">(b)ssp1,2-6</text>
</svg>
<svg x="16.8" y="413.5" width="257.2" height="390.8" viewBox="16.8 413.5 257.2 390.8">
<g transform="translate(0 396)">
<g class="pg">
<polygon fill="#f9f3fa" points="159,37.6 161,37 162.7,39.3 165,41 167.3,42.4 170,43 171.3,44.8 172,47 174.2,48.7 177,49 179.3,51.3 181,54 182.9,56.1 184.7,58.3 187,60 189,62 191,65 194,67 195.7,65.5 198,65 200.1,63.6 202,62 203.9,60.4 206,59 206.3,56.9 207,55 206.8,52.4 206,50 207.9,48.9 210,48 212.1,48 214,47 215.6,48.7 216,51 217.6,53.3 218,56 220,58 219.7,60.5 219,63 217.9,65.5 217,68 215.2,69.8 213,71 210.6,72.6 209,75 206.3,76.2 204,78 202.4,80 200,81 197,81 195,81.4 193,81 190.5,79.9 188,79 185.4,77.1 183,75 181.3,73.4 179.7,71.7 178,70 175.5,68.5 174,66 172,64 169.7,63.1 168,61.3 166,60 164.5,58.5 163,57 162,56 162.5,54 163,52 163.4,50 163,48 162.3,45.9 161.4,43.8 160,42 160,39.7"/>
<polygon fill="#f9f3fa" points="163,57 164.5,58.5 166,60 168,61.3 169.7,63.1 172,64 174,66 175.5,68.5 178,70 179.7,71.7 181.3,73.4 183,75 185.4,77.1 188,79 190.5,79.9 193,81 195,81.4 197,81 198,83 197,86 195.4,88.4 193,90 190.8,91.6 189,93.6 185.8,93.6 183,95 180,96 177.6,97.2 175,98 172.5,98.3 170,99 168,97 166.5,94.7 166,92 164.3,90.1 163,88 161.8,86.1 161,84 158,81.6 155,81.6 152,81 148.8,81.3 146,83 143.9,83.8 141.8,84.3 139.5,84 140.2,81 140,78 141,75.6 141,73 142.6,71.3 143,69 144.6,67.1 146,65 147.8,63.4 149.7,61.9 152,61 155,60 158,59 160.8,58.7"/>
<polygon fill="#5aa8d0" points="197,81 200,81 202.4,80 204,78 206.3,76.2 209,75 210.6,72.6 213,71 215.2,69.8 217,68 217.9,65.5 219,63 219.7,60.5 220,58 222.2,58.1 224,57 225.6,59 228,60 229.4,62.3 230,65 230.5,67.7 232,70 233.4,72.5 235,75 235.8,77.6 237,80 237.2,83.1 236,86 236.3,89.2 238,92 237.8,94.6 239,97 237.5,99.3 237,102 235.6,104.1 234,106 232,106.7 230,106 228.1,107.6 226,109 224.3,110.6 222,111 220,110.5 218,111 216,110.1 214,109 212.2,107.6 210,107 208,106.4 206,106 203,108 200.9,109.3 199,111 196.8,113.4 194,115 191.2,113.4 188,113 187.1,110.6 185.7,108.5 185,106 184.7,103.4 182.4,101.6 182,99 180,96 183,95 185.8,93.6 189,93.6 190.8,91.6 193,90 195.4,88.4 197,86 198,83"/>
<polygon fill="#0f8ec2" points="137,91 138.5,88 139.2,86.1 139.5,84 141.8,84.3 143.9,83.8 146,83 148.8,81.3 152,81 155,81.6 158,81.6 161,84 161.8,86.1 163,88 164.3,90.1 166,92 166.5,94.7 168,97 170,99 172.5,98.3 175,98 177.6,97.2 180,96 182,99 182.4,101.6 184.7,103.4 185,106 185.7,108.5 187.1,110.6 188,113 191.2,113.4 194,115 195.2,117.7 197,120 198.2,122.4 199,125 200,127.8 202,130 203.6,132.8 204,136 205.2,138.9 206,142 206.5,144.9 207.5,147.5 209,150 206.3,150.5 204,152 202,152.4 200,153 197.2,154 195,156 191.8,156.3 189,158 186.7,158.4 184.3,158.1 182,158 179.5,157.3 177,157 174,157 174,154.5 173.6,152 172.6,149.1 172,146 171.2,143.7 170.2,141.5 170,139 167,137 165.1,135.9 164,134 161.3,132.3 159,130 157.4,127.6 155,126 153.3,123.6 152,121 150.8,118.1 150,115 149.8,112 149,109 148.4,106 148,103 147.2,100.9 146,99 143.9,96.5 141,95 139.5,92.5"/>
<polygon fill="#0f8ec2" points="124,121 125,123 126.7,124.8 128,127 130.9,128.5 133,131 134.9,132.5 136.3,134.4 138,136 139.8,138.3 141,141 143,144 145.5,143.1 148,142 151.1,141.6 154,140.4 157,139.8 160,140 162.5,139.3 165,139 167,137 170,139 170.2,141.5 171.2,143.7 172,146 172.6,149.1 173.6,152 174,154.5 174,157 173,159 171.5,161.5 170,164 169.6,166.3 167.9,167.9 167,170 165.6,172.9 164.5,176 163.2,173.8 161,172.5 159.3,170.8 157.3,169.6 156.2,172.2 154.3,174 152.4,176 149.5,177.5 147.5,180 144.7,181.4 142.5,183.5 140.2,184.9 138.5,187 136.3,189 133.5,190 134.1,193 133.5,196 133.5,198.7 133.1,201.3 132.7,204 129.5,202 127.2,200.2 124.5,199 122.3,198.1 120,198 120,195.9 119,194 120.3,192.2 121,190 123,188 124,185.4 123.5,182.6 124,180 123.8,177 124.5,174 124.6,171.8 126,170 127.4,168.2 128,166 127.8,163.9 127,162 124.6,160.4 123,158 120.8,156.7 119,155 119.7,152.5 119.5,150 120.4,147 121,144 121.5,141.3 121.1,138.6 120.4,136 121.5,133.1 122,130 121.8,127.6 122.4,125.4 122.8,123.1"/>
<polygon fill="#ebe5f3" points="194,115 196.8,113.4 199,111 200.9,109.3 203,108 206,106 208,106.4 210,107 212.2,107.6 214,109 216,110.1 218,111 220,110.5 222,111 224.3,110.6 226,109 228.1,107.6 230,106 232,106.7 234,106 235.1,107.8 235,110 234.2,112.6 233,115 232,117.5 231,120 229.4,121.7 229,124 228.5,127 228,130 227.2,133 227,136 225.5,138 224,140 222.8,142.2 221,144 221.6,147 222,150 223,152.4 225,154 225.4,156.5 226,159 224.1,160.1 223,162 220.9,162.1 219,163 216.6,162.1 214,162 212.9,159.5 212,157 211.9,154.9 211,153 209,150 207.5,147.5 206.5,144.9 206,142 205.2,138.9 204,136 203.6,132.8 202,130 200,127.8 199,125 198.2,122.4 197,120 195.2,117.7"/>
<polygon fill="#ebe5f3" points="75.4,111 77,108 79.1,106.1 81,104 83,103 84.3,101.2 86,99.8 88.5,99 91,98 93,96.9 95.5,97.7 97.5,96.5 99.8,96.1 101.8,94.8 104,94 107,94.3 110.1,94.1 113,95 113.9,97.3 114.5,99.6 115,102 116.4,104.9 117,108 117.7,110.2 118.5,112.2 120,114 121.8,115.8 123,118 124,121 122.8,123.1 122.4,125.4 121.8,127.6 122,130 121.5,133.1 120.4,136 121.1,138.6 121.5,141.3 121,144 120.4,147 119.5,150 119.7,152.5 119,155 120.8,156.7 123,158 124.6,160.4 127,162 127.8,163.9 128,166 127.4,168.2 126,170 124.6,171.8 124.5,174 123.8,177 124,180 123.5,182.6 124,185.4 123,188 121,185 119.9,182.5 118.7,180 117.1,178.1 116.5,175.7 115.5,173.5 113.7,171.9 112.8,169.6 111.4,167.7 109.7,166.2 109.2,163.9 108,162 106.5,160.1 106.1,157.8 105.6,155.5 104.4,153.4 102.4,152 99.7,151 97.5,149 95.9,146.1 93.4,144 93.8,141.5 94,139 94.1,136.5 93.4,134 91.7,132.3 91,130 89.1,127.8 86.8,126 85.4,123.1 85,120 84.1,117.1 82.7,114.5 80.5,113 78.6,111"/>
<polygon fill="#ebe5f3" points="75.4,111 78.6,111 80.5,113 82.7,114.5 84.1,117.1 85,120 85.4,123.1 86.8,126 89.1,127.8 91,130 91.7,132.3 93.4,134 94.1,136.5 94,139 93.8,141.5 93.4,144 95.9,146.1 97.5,149 99.7,151 102.4,152 104.4,153.4 105.6,155.5 106.1,157.8 106.5,160.1 108,162 109.2,163.9 109.7,166.2 111.4,167.7 112.8,169.6 113.7,171.9 115.5,173.5 116.5,175.7 117.1,178.1 118.7,180 119.9,182.5 121,185 123,188 121,190 120.3,192.2 119,194 120,195.9 120,198 117.1,196.5 115,194 112,194 109,194 106.4,193.8 104,193 101.7,191.9 100,190 98.5,188 97,186 96.5,183.7 94.5,182.3 94,180 93.3,177.5 92.1,175.3 91,173 90.5,170.8 89.5,168.8 88,167 86.2,165.3 84,164 81.5,164 79,164 77.4,165.4 76,167 73,168 70.4,168.8 68,170 65,171 62,172 59,172.1 56,171.5 53.7,170.1 51,170 49,168.5 47,167 47.1,164.6 47.2,162.3 48,160 47.3,157.7 47.4,155.3 46.5,153 46.5,150.4 45.5,148 47.4,146.5 48.1,144 50,142.5 52.5,140.8 55,139 57.4,138.5 59.8,138 62,137 64.1,135.8 66.4,135 67.1,132.7 68.8,131 68.9,128.5 69.6,126 70.6,123.6 70.5,121 71.9,118.6 73,116 74.8,113.8"/>
<polygon fill="#f9f3fa" points="124,121 125.4,118.1 126,115 127.7,113.3 129.2,111.3 130,109 130.6,106.5 131,104 132.2,101.1 133,98 134.9,96 136.2,93.6 137,91 139.5,92.5 141,95 143.9,96.5 146,99 147.2,100.9 148,103 148.4,106 149,109 149.8,112 150,115 150.8,118.1 152,121 153.3,123.6 155,126 157.4,127.6 159,130 161.3,132.3 164,134 165.1,135.9 167,137 165,139 162.5,139.3 160,140 157,139.8 154,140.4 151.1,141.6 148,142 145.5,143.1 143,144 141,141 139.8,138.3 138,136 136.3,134.4 134.9,132.5 133,131 130.9,128.5 128,127 126.7,124.8 125,123"/>
<polygon fill="#1073b6" points="157.3,169.6 159.3,170.8 161,172.5 163.2,173.8 164.5,176 164.9,178.1 163.8,180 163.9,182.6 163,185 162.5,188.1 161.4,191 160.3,193 160.3,195.3 159.7,197.5 159.4,199.7 159,201.9 158,204 157.8,207.2 158,210.5 158.1,213.1 159,215.5 159.8,217.4 161.4,218.7 162.7,221.5 163,224.5 160.9,226.1 159.7,228.5 158.3,230.2 156.5,231.5 155,228.5 155.6,226.2 155,224 153,221 150,220.5 147,220.3 144,220.5 141.9,221 140,222 137.7,223.6 135,224 133.7,226.1 132,228 130.7,229.8 130,232 127.3,231.1 124.5,230.5 123,227 123.7,224 124,221 125.6,218.5 127,216 128,212.5 129.6,210.8 131,209 132,207.1 132,205 132.7,204 133.1,201.3 133.5,198.7 133.5,196 134.1,193 133.5,190 136.3,189 138.5,187 140.2,184.9 142.5,183.5 144.7,181.4 147.5,180 149.5,177.5 152.4,176 154.3,174 156.2,172.2"/>
<polygon fill="#ebe5f3" points="174,157 177,157 179.5,157.3 182,158 184.3,158.1 186.7,158.4 189,158 191.8,156.3 195,156 197.2,154 200,153 202,152.4 204,152 206.3,150.5 209,150 207.4,152.4 205,154 204,157 203,160 203,162.4 202.2,164.6 202,167 201.4,169.7 200.1,172.2 200,175 199.8,177.7 198.8,180.3 199,183 199.2,185.4 198.3,187.7 198,190 196.5,191.7 195.9,193.9 195,196 192.1,196.9 190,199 187.4,198.9 185,200 182.6,198.6 180,198 177.7,196.1 175,195 173.5,192.8 172,190.5 171,188 169.5,186.2 168.9,184.1 168,182 166.5,180.2 166.1,177.8 164.5,176 165.6,172.9 167,170 167.9,167.9 169.6,166.3 170,164 171.5,161.5 173,159"/>
<polygon fill="#cfd0e7" points="76,167 77.4,165.4 79,164 81.5,164 84,164 86.2,165.3 88,167 89.5,168.8 90.5,170.8 91,173 92.1,175.3 93.3,177.5 94,180 94.5,182.3 96.5,183.7 97,186 98.5,188 100,190 101.7,191.9 104,193 106.4,193.8 109,194 112,194 115,194 117.1,196.5 120,198 122.3,198.1 124.5,199 127.2,200.2 129.5,202 132.7,204 132,205 132,207.1 131,209 129.6,210.8 128,212.5 125.8,210.7 123,210 121.2,209.1 120,207.5 118.1,208.5 116,209 113.2,209.7 111,211.5 108.1,212.7 105,213.5 102.7,212.1 100,212 97,210 95.6,208.2 95,206 93.2,204.3 92,202 90.3,199.7 88,198 86,196.4 85,194 83.4,191.2 83,188 82.8,185 82,182 80.8,179.1 80,176 78.9,173.7 77,172 75.9,169.6"/>
<polygon fill="#f9f3fa" points="62,172 65,171 68,170 70.4,168.8 73,168 76,167 75.9,169.6 77,172 78.9,173.7 80,176 80.8,179.1 82,182 82.8,185 83,188 83.4,191.2 85,194 86,196.4 88,198 90.3,199.7 92,202 93.2,204.3 95,206 95.6,208.2 97,210 100,212 102.7,212.1 105,213.5 103.8,215.5 102,217 100.1,219.1 98,221 96.4,223.8 96,227 96.2,230.1 95,233 94.9,236.1 96,239 97.2,241.9 97,245 96.4,247.5 96,250 93.9,250.8 92,252 89.8,253.9 87,255 85.8,256.9 85.5,259.3 84,261 83.2,263.6 82,266 80,264 79.6,261.3 78,259 75.4,257.2 73,255 71.5,253.1 69.5,251.8 68,250 65.7,247.7 64,245 61.4,243.2 59,241 57.7,238.1 57,235 58.2,232.1 58,229 60.5,226.9 63,225 61.2,223.2 60,221 60.7,218.5 62.6,216.6 63,214 64.3,211.8 65,209.5 65,207 63.7,204.1 63,201 61.1,198.4 59,196 59.4,193.2 61,191 63.4,189.3 66,188 66.8,185.1 67,182 65.9,179 65,176 63.6,173.9"/>
<polygon fill="#5aa8d0" points="164.5,176 166.1,177.8 166.5,180.2 168,182 168.9,184.1 169.5,186.2 171,188 172,190.5 173.5,192.8 175,195 175.3,197 175.6,199 175.4,201.5 176,204 176.5,206.2 178,208 180.6,208 183,209 185.6,208.8 188,210 190.4,209 193,209 195.4,210.1 198,210 200.1,210.1 202,211 204.5,210.5 207,210 209.3,211.4 212,212 214.4,212.9 217,213 215.6,214.6 214,216 212.5,219 211.8,220.9 211.5,223 211.4,225.5 211.5,228 208.8,227.8 206,228 203,227.9 200,227.5 197,227.4 194,228 192.2,229.2 190,229 187.5,228.9 185,229.4 182.5,229.7 180,229 177.6,229.8 175,229.5 172.3,229.1 170,227.5 167.8,226.5 166,225 163,224.5 162.7,221.5 161.4,218.7 159.8,217.4 159,215.5 158.1,213.1 158,210.5 157.8,207.2 158,204 159,201.9 159.4,199.7 159.7,197.5 160.3,195.3 160.3,193 161.4,191 162.5,188.1 163,185 163.9,182.6 163.8,180 164.9,178.1"/>
<polygon fill="#cfd0e7" points="209,150 211,153 211.9,154.9 212,157 212.9,159.5 214,162 214.6,165 215,168 216.1,170 216.5,172.3 218,174 217.9,177.1 219,180 220.3,182.6 222,185 223.5,187.3 224,190 225.8,191.8 227,194 226,197 224.1,198.2 222,199 219,200 218.3,202.5 218,205 219.7,207.2 220,210 218.3,211.3 217,213 214.4,212.9 212,212 209.3,211.4 207,210 204.5,210.5 202,211 200.1,210.1 198,210 195.4,210.1 193,209 190.4,209 188,210 185.6,208.8 183,209 180.6,208 178,208 176.5,206.2 176,204 175.4,201.5 175.6,199 175.3,197 175,195 177.7,196.1 180,198 182.6,198.6 185,200 187.4,198.9 190,199 192.1,196.9 195,196 195.9,193.9 196.5,191.7 198,190 198.3,187.7 199.2,185.4 199,183 198.8,180.3 199.8,177.7 200,175 200.1,172.2 201.4,169.7 202,167 202.2,164.6 203,162.4 203,160 204,157 205,154 207.4,152.4"/>
<polygon fill="#0d5b95" points="163,224.5 166,225 167.8,226.5 170,227.5 172.3,229.1 175,229.5 177.6,229.8 180,229 182.5,229.7 185,229.4 187.5,228.9 190,229 192.2,229.2 194,228 197,227.4 200,227.5 203,227.9 206,228 208.8,227.8 211.5,228 211.7,231.1 212.5,234 212.7,237 212,240 211.2,242.2 209.7,244.1 209.5,246.5 207.2,248.7 205,251 202.2,252.3 200,254.5 196.9,255.5 194,257 192,257.3 190,257 187.5,257.7 185,258 182.5,257.6 180,257 177.5,257 175,257 172.5,258.5 170,260 168.4,262 166,263 163.9,263.7 162,265 159.2,264.1 157,262 154.3,261.5 152,260 149.6,261 147,261 144.6,260 142,260 143.4,258.2 144,256 144.8,252.9 146,250 147.5,247.2 148,244 149,241 150,238 151.3,236.3 153,235 154.8,233.3 156.5,231.5 158.3,230.2 159.7,228.5 160.9,226.1"/>
<polygon fill="#5aa8d0" points="227,194 228.6,195.9 230,198 232.4,199 234,201 236.2,202.8 238,205 239.6,207.3 240,210 241.6,212.8 242,216 241.9,219.1 243,222 243.7,225 244,228 242.8,230.4 243,233 242.5,235.6 241.4,237.8 240,240 240,242.7 239.1,245.3 239,248 239.1,250.7 237.9,253.3 238,256 239.1,258.3 240.1,260.6 241,263 241.2,266.1 242,269 240.1,271.2 239,274 236,273 233.7,274.4 231,275 228.5,275.1 226,275 223,273.9 220,273 217.4,273.2 215,274 211.8,274.4 209,276 206.3,277.1 204,279 202,276 201.4,273.8 199.9,272 199,270 197.5,267.7 197,265 195.7,262.4 194,260 192,258.4 190,257 192,257.3 194,257 196.9,255.5 200,254.5 202.2,252.3 205,251 207.2,248.7 209.5,246.5 209.7,244.1 211.2,242.2 212,240 212.7,237 212.5,234 211.7,231.1 211.5,228 211.4,225.5 211.5,223 211.8,220.9 212.5,219 214,216 215.6,214.6 217,213 218.3,211.3 220,210 219.7,207.2 218,205 218.3,202.5 219,200 222,199 224.1,198.2 226,197"/>
<polygon fill="#07345f" points="142,260 144.6,260 147,261 149.6,261 152,260 154.3,261.5 157,262 159.2,264.1 162,265 163.9,263.7 166,263 168.4,262 170,260 172.5,258.5 175,257 177.5,257 180,257 182.5,257.6 185,258 187.5,257.7 190,257 192,258.4 194,260 195.7,262.4 197,265 197.5,267.7 199,270 199.9,272 201.4,273.8 202,276 204,279 204,282 203.1,284.8 201,287 199.5,290 199.1,292.1 200,294 199.6,297 200,300 199.8,302.7 199.8,305.3 200,308 199.1,310.9 199.5,314 200,316.5 198.3,317.5 197,319 193.5,317.5 192.7,315.3 192,313 190,310.8 189,308 188.2,305.9 187,304 184.6,303.2 182,303 179.1,302.1 176,302 173.1,300.7 170,300 167.8,299.4 165.7,298.6 164,297 161.7,296.2 160.2,294 158,293 155.8,291.5 153.6,290.2 152,288 150.2,286.2 148.4,284.2 147,282 145.2,280.3 144.9,277.6 143,276 142.3,273.3 142.4,270.5 141,268 140.8,265.3 141.6,262.7"/>
<polygon fill="#ebe5f3" points="204,279 206.3,277.1 209,276 211.8,274.4 215,274 217.4,273.2 220,273 223,273.9 226,275 228.5,275.1 231,275 233.7,274.4 236,273 239,274 239.2,276.6 238,279 235.5,280.5 233,282 230.7,282.4 229,284 228.8,287 228,290 227.5,293 227,296 224.9,297.6 224,300 222.3,301.7 222,304 221,306 219,307 219.7,309.6 221,312 222.6,313.2 224,314.5 222,315.5 220,316.5 217.5,317.2 215,318 211.9,318.1 209,319 206.5,318.7 204,318.5 202.3,317 200,316.5 199.5,314 199.1,310.9 200,308 199.8,305.3 199.8,302.7 200,300 199.6,297 200,294 199.1,292.1 199.5,290 201,287 203.1,284.8 204,282"/>
<polygon fill="#07345f" points="170,338 168,335 166.5,332.5 165,330 163.4,328.3 162.7,326.2 162,324 165,323.7 168,323 170.3,322.4 172.7,323.1 175,323 175.9,320.5 177,318 179.8,317.7 182,316 185.1,315.8 188,317 190.7,317.6 193.5,317.5 197,319 198.3,317.5 200,316.5 202.3,317 204,318.5 206.5,318.7 209,319 211.9,318.1 215,318 217.5,317.2 220,316.5 222,315.5 224,314.5 225.2,316.1 226,318 225.2,320.9 225,324 223.9,326.8 222,329 222.8,331.9 223,335 222.5,338.2 221,341 221.5,344 222,347 223.6,349.8 224,353 225.5,354.9 226.9,356.9 228,359 229.9,361.6 232,364 233.7,365.6 235.2,367.5 237,369 239.8,370.6 242,373 243.5,375 245,377 246,380 242.9,380.1 240,381 236.8,381.4 234,383 231,383.2 228,383 224.9,382.2 222,381 219.7,382.5 217,383 214.4,382.2 212,381 209.3,379.8 207,378 204.5,376.5 202,375 201,372 202.4,369.9 204,368 205,366 206,364 206.2,361.4 205,359 205,356.4 204,354 201.5,352 199,350 196.2,349.1 194,347 190.9,346.2 188,345 185.1,343.9 182,344 179.6,342.9 177,342 174.6,340.5 172,339.5"/>
<polygon fill="#07345f" points="175.5,324.5 177,318 182,316 188,317 193.5,317.5 195,321.5 205,322 206.5,328.5 201,330.5 195.5,331 194,327 187.7,326.5 180.5,326"/>
<polygon fill="#5aa8d0" points="126,264 127.9,262.9 130,263 133,262 136,261 138.7,261 141,259.5 142,260 141.6,262.7 140.8,265.3 141,268 142.4,270.5 142.3,273.3 143,276 144.9,277.6 145.2,280.3 147,282 148.4,284.2 150.2,286.2 152,288 153.6,290.2 155.8,291.5 158,293 160.2,294 161.7,296.2 164,297 165.7,298.6 167.8,299.4 170,300 173.1,300.7 176,302 179.1,302.1 182,303 184.6,303.2 187,304 188.2,305.9 189,308 190,310.8 192,313 192.7,315.3 193.5,317.5 190.7,317.6 188,317 185.1,315.8 182,316 179.8,317.7 177,318 175.9,320.5 175,323 172.7,323.1 170.3,322.4 168,323 165,323.7 162,324 162.7,326.2 163.4,328.3 165,330 166.5,332.5 168,335 170,338 169.6,340.3 168,342 167,344 165,345 165.2,347.2 164,349 161.9,349.1 160,350 158,349.4 156,349 153.9,349.2 152,350 150.1,348.8 148,348 145,347.5 144.5,344.5 143.2,341.9 142.5,339 141.8,336 142.5,333 143.5,330.1 144,327 144,323.8 144,320.5 142.7,317.6 141,315 140.9,311.9 140,309 140.3,306 141,303 141,300.4 140,298 138.5,295.7 138,293 136.7,290.1 136,287 134.7,285.1 134.2,282.9 133,281 132.6,277.8 131,275 130.1,272.9 129.3,270.8 128,269 126.8,266.6"/>
<polygon fill="#f9f3fa" points="124.5,230.5 127.3,231.1 130,232 130.7,229.8 132,228 133.7,226.1 135,224 137.7,223.6 140,222 141.9,221 144,220.5 147,220.3 150,220.5 153,221 155,224 155.6,226.2 155,228.5 156.5,231.5 154.8,233.3 153,235 151.3,236.3 150,238 149,241 148,244 147.5,247.2 146,250 144.8,252.9 144,256 143.4,258.2 142,260 141,259.5 138.7,261 136,261 133,262 130,263 127.9,262.9 126,264 124,264.5 122,264 121.6,261.3 120,259 121.9,256.9 124,255 124.5,252.8 126,251 124.4,248.7 124,246 122.7,243.6 122,241 121.1,238.1 121,235 122.2,232.3"/>
<polygon fill="#f9f3fa" points="170,338 172,339.5 174.6,340.5 177,342 179.6,342.9 182,344 185.1,343.9 188,345 190.9,346.2 194,347 196.2,349.1 199,350 201.5,352 204,354 205,356.4 205,359 206.2,361.4 206,364 205,366 204,368 202.4,369.9 201,372 202,375 200.4,376.7 200,379 199.9,381.5 200,384 198.8,385.8 197,387 195,387.6 193,388 190,390 188.1,388.9 187,387 185.3,385.1 183,384 181,381 181,378.9 182,377 183.6,375.1 185,373 187,370 186.1,368 185,366 182.5,364.5 180,363 178.9,360.7 177,359 175.8,357.2 176,355 174.3,352.7 172,351 170.2,349.2 169,347 167,344 168,342 169.6,340.3"/>
<polygon fill="#f9f3fa" points="105,213.5 108.1,212.7 111,211.5 113.2,209.7 116,209 118.1,208.5 120,207.5 121.2,209.1 123,210 125.8,210.7 128,212.5 127,216 125.6,218.5 124,221 123.7,224 123,227 124.5,230.5 122.2,232.3 121,235 121.1,238.1 122,241 122.7,243.6 124,246 124.4,248.7 126,251 124.5,252.8 124,255 121.9,256.9 120,259 121.6,261.3 122,264 121,266.4 119,268 116.8,269.6 114,270 111.2,271.7 108,272 105.2,270.4 102,270 100.7,267.8 99,266 97.3,263.8 97,261 98,258.1 98,255 96.8,252.6 96,250 96.4,247.5 97,245 97.2,241.9 96,239 94.9,236.1 95,233 96.2,230.1 96,227 96.4,223.8 98,221 100.1,219.1 102,217 103.8,215.5"/>
<polygon fill="#f9f3fa" points="102,270 105.2,270.4 108,272 111.2,271.7 114,270 116.8,269.6 119,268 121,266.4 122,264 124,264.5 126,264 126.8,266.6 128,269 129.3,270.8 130.1,272.9 131,275 132.6,277.8 133,281 134.2,282.9 134.7,285.1 136,287 136.7,290.1 138,293 138.5,295.7 140,298 141,300.4 141,303 140.3,306 140,309 140.9,311.9 141,315 142.7,317.6 144,320.5 141,320 138.3,319.6 136,318 134.2,316.6 132.2,315.6 130,315 127.9,314.2 126.1,312.8 124,312 121,311 118,310 115,309.4 112,309 109,309.3 106,309 103,309.7 100,310 99.8,307.8 101,306 101.2,303.8 100,302 100.5,300 100,298 101.4,295.7 102,293 102.3,289.8 104,287 105.1,284.1 105,281 105.2,277.9 104,275 102.5,272.7"/>
<polygon fill="#ebe5f3" points="100,310 103,309.7 106,309 109,309.3 112,309 115,309.4 118,310 121,311 124,312 126.1,312.8 127.9,314.2 130,315 132.2,315.6 134.2,316.6 136,318 138.3,319.6 141,320 144,320.5 144,323.8 144,327 143.5,330.1 142.5,333 141.8,336 142.5,339 143.2,341.9 144.5,344.5 145,347.5 143.8,349.5 142,351 139.7,352.1 138,354 135.6,355.7 133,357 131.2,359.2 129,361 127.6,363.1 126,365 123,365.3 120,366 117.6,367 115,367 112.8,368.8 111,371 109.6,373.1 108,375 106,376 104.8,373.8 103,372 101.1,370.3 100,368 98.1,366.4 96,365 95.5,362 95,359 93.9,356.1 94,353 92.3,351.1 91,349 89.3,347.3 89,345 89.3,342 90,339 91.2,336.6 92,334 93.1,331.7 95,330 96.8,328.2 99,327 100.2,324.1 101,321 101,317.9 100,315 100.7,312.5"/>
<polygon fill="#a6c1e0" points="121,199.5 124.5,199 129.5,202 132.7,204 132,205 131,209 128,212.5 123,210 121.5,206"/>
</g>
<use href="#gl"/><use href="#rv"/>
</g>
<text class="lg" x="20.4" y="660.2">Legend</text>
<rect class="sw" x="20" y="667.9" width="21" height="9.6" fill="#f9f3fa"/>
<text class="lb" x="44.2" y="675.9">2.02-2.55</text>
<rect class="sw" x="20" y="681.8" width="21" height="9.6" fill="#f7f1f8"/>
<text class="lb" x="44.2" y="689.8">2.55-3.73</text>
<rect class="sw" x="20" y="695.6" width="21" height="9.6" fill="#ebe5f3"/>
<text class="lb" x="44.2" y="703.6">3.73-5.35</text>
<rect class="sw" x="20" y="709.5" width="21" height="9.6" fill="#cfd0e7"/>
<text class="lb" x="44.2" y="717.5">5.35-6.79</text>
<rect class="sw" x="20" y="723.4" width="21" height="9.6" fill="#a6c1e0"/>
<text class="lb" x="44.2" y="731.4">6.79-8.71</text>
<rect class="sw" x="20" y="737.2" width="21" height="9.6" fill="#5aa8d0"/>
<text class="lb" x="44.2" y="745.2">8.71-14.23</text>
<rect class="sw" x="20" y="751.1" width="21" height="9.6" fill="#0f8ec2"/>
<text class="lb" x="44.2" y="759.1">14.23-30.27</text>
<rect class="sw" x="20" y="765" width="21" height="9.6" fill="#1073b6"/>
<text class="lb" x="44.2" y="773">30.27-37.98</text>
<rect class="sw" x="20" y="778.9" width="21" height="9.6" fill="#0c5088"/>
<text class="lb" x="44.2" y="786.9">37.98-49.07</text>
<rect class="sw" x="20" y="792.7" width="21" height="9.6" fill="#0d5289"/>
<text class="lb" x="44.2" y="800.7">49.07-63.67</text>
<text class="t" font-size="17.9" x="34" y="465.5">(c)ssp2,4-5</text>
</svg>
<svg x="277" y="413" width="256.5" height="391.2" viewBox="277 413 256.5 391.2">
<g transform="translate(260.3 394.6)">
<g class="pg">
<polygon fill="#f9f3fa" points="159,37.6 161,37 162.7,39.3 165,41 167.3,42.4 170,43 171.3,44.8 172,47 174.2,48.7 177,49 179.3,51.3 181,54 182.9,56.1 184.7,58.3 187,60 189,62 191,65 194,67 195.7,65.5 198,65 200.1,63.6 202,62 203.9,60.4 206,59 206.3,56.9 207,55 206.8,52.4 206,50 207.9,48.9 210,48 212.1,48 214,47 215.6,48.7 216,51 217.6,53.3 218,56 220,58 219.7,60.5 219,63 217.9,65.5 217,68 215.2,69.8 213,71 210.6,72.6 209,75 206.3,76.2 204,78 202.4,80 200,81 197,81 195,81.4 193,81 190.5,79.9 188,79 185.4,77.1 183,75 181.3,73.4 179.7,71.7 178,70 175.5,68.5 174,66 172,64 169.7,63.1 168,61.3 166,60 164.5,58.5 163,57 162,56 162.5,54 163,52 163.4,50 163,48 162.3,45.9 161.4,43.8 160,42 160,39.7"/>
<polygon fill="#f9f3fa" points="163,57 164.5,58.5 166,60 168,61.3 169.7,63.1 172,64 174,66 175.5,68.5 178,70 179.7,71.7 181.3,73.4 183,75 185.4,77.1 188,79 190.5,79.9 193,81 195,81.4 197,81 198,83 197,86 195.4,88.4 193,90 190.8,91.6 189,93.6 185.8,93.6 183,95 180,96 177.6,97.2 175,98 172.5,98.3 170,99 168,97 166.5,94.7 166,92 164.3,90.1 163,88 161.8,86.1 161,84 158,81.6 155,81.6 152,81 148.8,81.3 146,83 143.9,83.8 141.8,84.3 139.5,84 140.2,81 140,78 141,75.6 141,73 142.6,71.3 143,69 144.6,67.1 146,65 147.8,63.4 149.7,61.9 152,61 155,60 158,59 160.8,58.7"/>
<polygon fill="#5aa8d0" points="197,81 200,81 202.4,80 204,78 206.3,76.2 209,75 210.6,72.6 213,71 215.2,69.8 217,68 217.9,65.5 219,63 219.7,60.5 220,58 222.2,58.1 224,57 225.6,59 228,60 229.4,62.3 230,65 230.5,67.7 232,70 233.4,72.5 235,75 235.8,77.6 237,80 237.2,83.1 236,86 236.3,89.2 238,92 237.8,94.6 239,97 237.5,99.3 237,102 235.6,104.1 234,106 232,106.7 230,106 228.1,107.6 226,109 224.3,110.6 222,111 220,110.5 218,111 216,110.1 214,109 212.2,107.6 210,107 208,106.4 206,106 203,108 200.9,109.3 199,111 196.8,113.4 194,115 191.2,113.4 188,113 187.1,110.6 185.7,108.5 185,106 184.7,103.4 182.4,101.6 182,99 180,96 183,95 185.8,93.6 189,93.6 190.8,91.6 193,90 195.4,88.4 197,86 198,83"/>
<polygon fill="#0f8ec2" points="137,91 138.5,88 139.2,86.1 139.5,84 141.8,84.3 143.9,83.8 146,83 148.8,81.3 152,81 155,81.6 158,81.6 161,84 161.8,86.1 163,88 164.3,90.1 166,92 166.5,94.7 168,97 170,99 172.5,98.3 175,98 177.6,97.2 180,96 182,99 182.4,101.6 184.7,103.4 185,106 185.7,108.5 187.1,110.6 188,113 191.2,113.4 194,115 195.2,117.7 197,120 198.2,122.4 199,125 200,127.8 202,130 203.6,132.8 204,136 205.2,138.9 206,142 206.5,144.9 207.5,147.5 209,150 206.3,150.5 204,152 202,152.4 200,153 197.2,154 195,156 191.8,156.3 189,158 186.7,158.4 184.3,158.1 182,158 179.5,157.3 177,157 174,157 174,154.5 173.6,152 172.6,149.1 172,146 171.2,143.7 170.2,141.5 170,139 167,137 165.1,135.9 164,134 161.3,132.3 159,130 157.4,127.6 155,126 153.3,123.6 152,121 150.8,118.1 150,115 149.8,112 149,109 148.4,106 148,103 147.2,100.9 146,99 143.9,96.5 141,95 139.5,92.5"/>
<polygon fill="#0f8ec2" points="124,121 125,123 126.7,124.8 128,127 130.9,128.5 133,131 134.9,132.5 136.3,134.4 138,136 139.8,138.3 141,141 143,144 145.5,143.1 148,142 151.1,141.6 154,140.4 157,139.8 160,140 162.5,139.3 165,139 167,137 170,139 170.2,141.5 171.2,143.7 172,146 172.6,149.1 173.6,152 174,154.5 174,157 173,159 171.5,161.5 170,164 169.6,166.3 167.9,167.9 167,170 165.6,172.9 164.5,176 163.2,173.8 161,172.5 159.3,170.8 157.3,169.6 156.2,172.2 154.3,174 152.4,176 149.5,177.5 147.5,180 144.7,181.4 142.5,183.5 140.2,184.9 138.5,187 136.3,189 133.5,190 134.1,193 133.5,196 133.5,198.7 133.1,201.3 132.7,204 129.5,202 127.2,200.2 124.5,199 122.3,198.1 120,198 120,195.9 119,194 120.3,192.2 121,190 123,188 124,185.4 123.5,182.6 124,180 123.8,177 124.5,174 124.6,171.8 126,170 127.4,168.2 128,166 127.8,163.9 127,162 124.6,160.4 123,158 120.8,156.7 119,155 119.7,152.5 119.5,150 120.4,147 121,144 121.5,141.3 121.1,138.6 120.4,136 121.5,133.1 122,130 121.8,127.6 122.4,125.4 122.8,123.1"/>
<polygon fill="#cfd0e7" points="194,115 196.8,113.4 199,111 200.9,109.3 203,108 206,106 208,106.4 210,107 212.2,107.6 214,109 216,110.1 218,111 220,110.5 222,111 224.3,110.6 226,109 228.1,107.6 230,106 232,106.7 234,106 235.1,107.8 235,110 234.2,112.6 233,115 232,117.5 231,120 229.4,121.7 229,124 228.5,127 228,130 227.2,133 227,136 225.5,138 224,140 222.8,142.2 221,144 221.6,147 222,150 223,152.4 225,154 225.4,156.5 226,159 224.1,160.1 223,162 220.9,162.1 219,163 216.6,162.1 214,162 212.9,159.5 212,157 211.9,154.9 211,153 209,150 207.5,147.5 206.5,144.9 206,142 205.2,138.9 204,136 203.6,132.8 202,130 200,127.8 199,125 198.2,122.4 197,120 195.2,117.7"/>
<polygon fill="#ebe5f3" points="75.4,111 77,108 79.1,106.1 81,104 83,103 84.3,101.2 86,99.8 88.5,99 91,98 93,96.9 95.5,97.7 97.5,96.5 99.8,96.1 101.8,94.8 104,94 107,94.3 110.1,94.1 113,95 113.9,97.3 114.5,99.6 115,102 116.4,104.9 117,108 117.7,110.2 118.5,112.2 120,114 121.8,115.8 123,118 124,121 122.8,123.1 122.4,125.4 121.8,127.6 122,130 121.5,133.1 120.4,136 121.1,138.6 121.5,141.3 121,144 120.4,147 119.5,150 119.7,152.5 119,155 120.8,156.7 123,158 124.6,160.4 127,162 127.8,163.9 128,166 127.4,168.2 126,170 124.6,171.8 124.5,174 123.8,177 124,180 123.5,182.6 124,185.4 123,188 121,185 119.9,182.5 118.7,180 117.1,178.1 116.5,175.7 115.5,173.5 113.7,171.9 112.8,169.6 111.4,167.7 109.7,166.2 109.2,163.9 108,162 106.5,160.1 106.1,157.8 105.6,155.5 104.4,153.4 102.4,152 99.7,151 97.5,149 95.9,146.1 93.4,144 93.8,141.5 94,139 94.1,136.5 93.4,134 91.7,132.3 91,130 89.1,127.8 86.8,126 85.4,123.1 85,120 84.1,117.1 82.7,114.5 80.5,113 78.6,111"/>
<polygon fill="#f9f3fa" points="75.4,111 78.6,111 80.5,113 82.7,114.5 84.1,117.1 85,120 85.4,123.1 86.8,126 89.1,127.8 91,130 91.7,132.3 93.4,134 94.1,136.5 94,139 93.8,141.5 93.4,144 95.9,146.1 97.5,149 99.7,151 102.4,152 104.4,153.4 105.6,155.5 106.1,157.8 106.5,160.1 108,162 109.2,163.9 109.7,166.2 111.4,167.7 112.8,169.6 113.7,171.9 115.5,173.5 116.5,175.7 117.1,178.1 118.7,180 119.9,182.5 121,185 123,188 121,190 120.3,192.2 119,194 120,195.9 120,198 117.1,196.5 115,194 112,194 109,194 106.4,193.8 104,193 101.7,191.9 100,190 98.5,188 97,186 96.5,183.7 94.5,182.3 94,180 93.3,177.5 92.1,175.3 91,173 90.5,170.8 89.5,168.8 88,167 86.2,165.3 84,164 81.5,164 79,164 77.4,165.4 76,167 73,168 70.4,168.8 68,170 65,171 62,172 59,172.1 56,171.5 53.7,170.1 51,170 49,168.5 47,167 47.1,164.6 47.2,162.3 48,160 47.3,157.7 47.4,155.3 46.5,153 46.5,150.4 45.5,148 47.4,146.5 48.1,144 50,142.5 52.5,140.8 55,139 57.4,138.5 59.8,138 62,137 64.1,135.8 66.4,135 67.1,132.7 68.8,131 68.9,128.5 69.6,126 70.6,123.6 70.5,121 71.9,118.6 73,116 74.8,113.8"/>
<polygon fill="#f9f3fa" points="124,121 125.4,118.1 126,115 127.7,113.3 129.2,111.3 130,109 130.6,106.5 131,104 132.2,101.1 133,98 134.9,96 136.2,93.6 137,91 139.5,92.5 141,95 143.9,96.5 146,99 147.2,100.9 148,103 148.4,106 149,109 149.8,112 150,115 150.8,118.1 152,121 153.3,123.6 155,126 157.4,127.6 159,130 161.3,132.3 164,134 165.1,135.9 167,137 165,139 162.5,139.3 160,140 157,139.8 154,140.4 151.1,141.6 148,142 145.5,143.1 143,144 141,141 139.8,138.3 138,136 136.3,134.4 134.9,132.5 133,131 130.9,128.5 128,127 126.7,124.8 125,123"/>
<polygon fill="#1073b6" points="157.3,169.6 159.3,170.8 161,172.5 163.2,173.8 164.5,176 164.9,178.1 163.8,180 163.9,182.6 163,185 162.5,188.1 161.4,191 160.3,193 160.3,195.3 159.7,197.5 159.4,199.7 159,201.9 158,204 157.8,207.2 158,210.5 158.1,213.1 159,215.5 159.8,217.4 161.4,218.7 162.7,221.5 163,224.5 160.9,226.1 159.7,228.5 158.3,230.2 156.5,231.5 155,228.5 155.6,226.2 155,224 153,221 150,220.5 147,220.3 144,220.5 141.9,221 140,222 137.7,223.6 135,224 133.7,226.1 132,228 130.7,229.8 130,232 127.3,231.1 124.5,230.5 123,227 123.7,224 124,221 125.6,218.5 127,216 128,212.5 129.6,210.8 131,209 132,207.1 132,205 132.7,204 133.1,201.3 133.5,198.7 133.5,196 134.1,193 133.5,190 136.3,189 138.5,187 140.2,184.9 142.5,183.5 144.7,181.4 147.5,180 149.5,177.5 152.4,176 154.3,174 156.2,172.2"/>
<polygon fill="#cfd0e7" points="174,157 177,157 179.5,157.3 182,158 184.3,158.1 186.7,158.4 189,158 191.8,156.3 195,156 197.2,154 200,153 202,152.4 204,152 206.3,150.5 209,150 207.4,152.4 205,154 204,157 203,160 203,162.4 202.2,164.6 202,167 201.4,169.7 200.1,172.2 200,175 199.8,177.7 198.8,180.3 199,183 199.2,185.4 198.3,187.7 198,190 196.5,191.7 195.9,193.9 195,196 192.1,196.9 190,199 187.4,198.9 185,200 182.6,198.6 180,198 177.7,196.1 175,195 173.5,192.8 172,190.5 171,188 169.5,186.2 168.9,184.1 168,182 166.5,180.2 166.1,177.8 164.5,176 165.6,172.9 167,170 167.9,167.9 169.6,166.3 170,164 171.5,161.5 173,159"/>
<polygon fill="#cfd0e7" points="76,167 77.4,165.4 79,164 81.5,164 84,164 86.2,165.3 88,167 89.5,168.8 90.5,170.8 91,173 92.1,175.3 93.3,177.5 94,180 94.5,182.3 96.5,183.7 97,186 98.5,188 100,190 101.7,191.9 104,193 106.4,193.8 109,194 112,194 115,194 117.1,196.5 120,198 122.3,198.1 124.5,199 127.2,200.2 129.5,202 132.7,204 132,205 132,207.1 131,209 129.6,210.8 128,212.5 125.8,210.7 123,210 121.2,209.1 120,207.5 118.1,208.5 116,209 113.2,209.7 111,211.5 108.1,212.7 105,213.5 102.7,212.1 100,212 97,210 95.6,208.2 95,206 93.2,204.3 92,202 90.3,199.7 88,198 86,196.4 85,194 83.4,191.2 83,188 82.8,185 82,182 80.8,179.1 80,176 78.9,173.7 77,172 75.9,169.6"/>
<polygon fill="#f9f3fa" points="62,172 65,171 68,170 70.4,168.8 73,168 76,167 75.9,169.6 77,172 78.9,173.7 80,176 80.8,179.1 82,182 82.8,185 83,188 83.4,191.2 85,194 86,196.4 88,198 90.3,199.7 92,202 93.2,204.3 95,206 95.6,208.2 97,210 100,212 102.7,212.1 105,213.5 103.8,215.5 102,217 100.1,219.1 98,221 96.4,223.8 96,227 96.2,230.1 95,233 94.9,236.1 96,239 97.2,241.9 97,245 96.4,247.5 96,250 93.9,250.8 92,252 89.8,253.9 87,255 85.8,256.9 85.5,259.3 84,261 83.2,263.6 82,266 80,264 79.6,261.3 78,259 75.4,257.2 73,255 71.5,253.1 69.5,251.8 68,250 65.7,247.7 64,245 61.4,243.2 59,241 57.7,238.1 57,235 58.2,232.1 58,229 60.5,226.9 63,225 61.2,223.2 60,221 60.7,218.5 62.6,216.6 63,214 64.3,211.8 65,209.5 65,207 63.7,204.1 63,201 61.1,198.4 59,196 59.4,193.2 61,191 63.4,189.3 66,188 66.8,185.1 67,182 65.9,179 65,176 63.6,173.9"/>
<polygon fill="#0f8ec2" points="164.5,176 166.1,177.8 166.5,180.2 168,182 168.9,184.1 169.5,186.2 171,188 172,190.5 173.5,192.8 175,195 175.3,197 175.6,199 175.4,201.5 176,204 176.5,206.2 178,208 180.6,208 183,209 185.6,208.8 188,210 190.4,209 193,209 195.4,210.1 198,210 200.1,210.1 202,211 204.5,210.5 207,210 209.3,211.4 212,212 214.4,212.9 217,213 215.6,214.6 214,216 212.5,219 211.8,220.9 211.5,223 211.4,225.5 211.5,228 208.8,227.8 206,228 203,227.9 200,227.5 197,227.4 194,228 192.2,229.2 190,229 187.5,228.9 185,229.4 182.5,229.7 180,229 177.6,229.8 175,229.5 172.3,229.1 170,227.5 167.8,226.5 166,225 163,224.5 162.7,221.5 161.4,218.7 159.8,217.4 159,215.5 158.1,213.1 158,210.5 157.8,207.2 158,204 159,201.9 159.4,199.7 159.7,197.5 160.3,195.3 160.3,193 161.4,191 162.5,188.1 163,185 163.9,182.6 163.8,180 164.9,178.1"/>
<polygon fill="#5aa8d0" points="209,150 211,153 211.9,154.9 212,157 212.9,159.5 214,162 214.6,165 215,168 216.1,170 216.5,172.3 218,174 217.9,177.1 219,180 220.3,182.6 222,185 223.5,187.3 224,190 225.8,191.8 227,194 226,197 224.1,198.2 222,199 219,200 218.3,202.5 218,205 219.7,207.2 220,210 218.3,211.3 217,213 214.4,212.9 212,212 209.3,211.4 207,210 204.5,210.5 202,211 200.1,210.1 198,210 195.4,210.1 193,209 190.4,209 188,210 185.6,208.8 183,209 180.6,208 178,208 176.5,206.2 176,204 175.4,201.5 175.6,199 175.3,197 175,195 177.7,196.1 180,198 182.6,198.6 185,200 187.4,198.9 190,199 192.1,196.9 195,196 195.9,193.9 196.5,191.7 198,190 198.3,187.7 199.2,185.4 199,183 198.8,180.3 199.8,177.7 200,175 200.1,172.2 201.4,169.7 202,167 202.2,164.6 203,162.4 203,160 204,157 205,154 207.4,152.4"/>
<polygon fill="#0d5b95" points="163,224.5 166,225 167.8,226.5 170,227.5 172.3,229.1 175,229.5 177.6,229.8 180,229 182.5,229.7 185,229.4 187.5,228.9 190,229 192.2,229.2 194,228 197,227.4 200,227.5 203,227.9 206,228 208.8,227.8 211.5,228 211.7,231.1 212.5,234 212.7,237 212,240 211.2,242.2 209.7,244.1 209.5,246.5 207.2,248.7 205,251 202.2,252.3 200,254.5 196.9,255.5 194,257 192,257.3 190,257 187.5,257.7 185,258 182.5,257.6 180,257 177.5,257 175,257 172.5,258.5 170,260 168.4,262 166,263 163.9,263.7 162,265 159.2,264.1 157,262 154.3,261.5 152,260 149.6,261 147,261 144.6,260 142,260 143.4,258.2 144,256 144.8,252.9 146,250 147.5,247.2 148,244 149,241 150,238 151.3,236.3 153,235 154.8,233.3 156.5,231.5 158.3,230.2 159.7,228.5 160.9,226.1"/>
<polygon fill="#0f8ec2" points="227,194 228.6,195.9 230,198 232.4,199 234,201 236.2,202.8 238,205 239.6,207.3 240,210 241.6,212.8 242,216 241.9,219.1 243,222 243.7,225 244,228 242.8,230.4 243,233 242.5,235.6 241.4,237.8 240,240 240,242.7 239.1,245.3 239,248 239.1,250.7 237.9,253.3 238,256 239.1,258.3 240.1,260.6 241,263 241.2,266.1 242,269 240.1,271.2 239,274 236,273 233.7,274.4 231,275 228.5,275.1 226,275 223,273.9 220,273 217.4,273.2 215,274 211.8,274.4 209,276 206.3,277.1 204,279 202,276 201.4,273.8 199.9,272 199,270 197.5,267.7 197,265 195.7,262.4 194,260 192,258.4 190,257 192,257.3 194,257 196.9,255.5 200,254.5 202.2,252.3 205,251 207.2,248.7 209.5,246.5 209.7,244.1 211.2,242.2 212,240 212.7,237 212.5,234 211.7,231.1 211.5,228 211.4,225.5 211.5,223 211.8,220.9 212.5,219 214,216 215.6,214.6 217,213 218.3,211.3 220,210 219.7,207.2 218,205 218.3,202.5 219,200 222,199 224.1,198.2 226,197"/>
<polygon fill="#07345f" points="142,260 144.6,260 147,261 149.6,261 152,260 154.3,261.5 157,262 159.2,264.1 162,265 163.9,263.7 166,263 168.4,262 170,260 172.5,258.5 175,257 177.5,257 180,257 182.5,257.6 185,258 187.5,257.7 190,257 192,258.4 194,260 195.7,262.4 197,265 197.5,267.7 199,270 199.9,272 201.4,273.8 202,276 204,279 204,282 203.1,284.8 201,287 199.5,290 199.1,292.1 200,294 199.6,297 200,300 199.8,302.7 199.8,305.3 200,308 199.1,310.9 199.5,314 200,316.5 198.3,317.5 197,319 193.5,317.5 192.7,315.3 192,313 190,310.8 189,308 188.2,305.9 187,304 184.6,303.2 182,303 179.1,302.1 176,302 173.1,300.7 170,300 167.8,299.4 165.7,298.6 164,297 161.7,296.2 160.2,294 158,293 155.8,291.5 153.6,290.2 152,288 150.2,286.2 148.4,284.2 147,282 145.2,280.3 144.9,277.6 143,276 142.3,273.3 142.4,270.5 141,268 140.8,265.3 141.6,262.7"/>
<polygon fill="#a6c1e0" points="204,279 206.3,277.1 209,276 211.8,274.4 215,274 217.4,273.2 220,273 223,273.9 226,275 228.5,275.1 231,275 233.7,274.4 236,273 239,274 239.2,276.6 238,279 235.5,280.5 233,282 230.7,282.4 229,284 228.8,287 228,290 227.5,293 227,296 224.9,297.6 224,300 222.3,301.7 222,304 221,306 219,307 219.7,309.6 221,312 222.6,313.2 224,314.5 222,315.5 220,316.5 217.5,317.2 215,318 211.9,318.1 209,319 206.5,318.7 204,318.5 202.3,317 200,316.5 199.5,314 199.1,310.9 200,308 199.8,305.3 199.8,302.7 200,300 199.6,297 200,294 199.1,292.1 199.5,290 201,287 203.1,284.8 204,282"/>
<polygon fill="#07345f" points="170,338 168,335 166.5,332.5 165,330 163.4,328.3 162.7,326.2 162,324 165,323.7 168,323 170.3,322.4 172.7,323.1 175,323 175.9,320.5 177,318 179.8,317.7 182,316 185.1,315.8 188,317 190.7,317.6 193.5,317.5 197,319 198.3,317.5 200,316.5 202.3,317 204,318.5 206.5,318.7 209,319 211.9,318.1 215,318 217.5,317.2 220,316.5 222,315.5 224,314.5 225.2,316.1 226,318 225.2,320.9 225,324 223.9,326.8 222,329 222.8,331.9 223,335 222.5,338.2 221,341 221.5,344 222,347 223.6,349.8 224,353 225.5,354.9 226.9,356.9 228,359 229.9,361.6 232,364 233.7,365.6 235.2,367.5 237,369 239.8,370.6 242,373 243.5,375 245,377 246,380 242.9,380.1 240,381 236.8,381.4 234,383 231,383.2 228,383 224.9,382.2 222,381 219.7,382.5 217,383 214.4,382.2 212,381 209.3,379.8 207,378 204.5,376.5 202,375 201,372 202.4,369.9 204,368 205,366 206,364 206.2,361.4 205,359 205,356.4 204,354 201.5,352 199,350 196.2,349.1 194,347 190.9,346.2 188,345 185.1,343.9 182,344 179.6,342.9 177,342 174.6,340.5 172,339.5"/>
<polygon fill="#07345f" points="175.5,324.5 177,318 182,316 188,317 193.5,317.5 195,321.5 205,322 206.5,328.5 201,330.5 195.5,331 194,327 187.7,326.5 180.5,326"/>
<polygon fill="#5aa8d0" points="126,264 127.9,262.9 130,263 133,262 136,261 138.7,261 141,259.5 142,260 141.6,262.7 140.8,265.3 141,268 142.4,270.5 142.3,273.3 143,276 144.9,277.6 145.2,280.3 147,282 148.4,284.2 150.2,286.2 152,288 153.6,290.2 155.8,291.5 158,293 160.2,294 161.7,296.2 164,297 165.7,298.6 167.8,299.4 170,300 173.1,300.7 176,302 179.1,302.1 182,303 184.6,303.2 187,304 188.2,305.9 189,308 190,310.8 192,313 192.7,315.3 193.5,317.5 190.7,317.6 188,317 185.1,315.8 182,316 179.8,317.7 177,318 175.9,320.5 175,323 172.7,323.1 170.3,322.4 168,323 165,323.7 162,324 162.7,326.2 163.4,328.3 165,330 166.5,332.5 168,335 170,338 169.6,340.3 168,342 167,344 165,345 165.2,347.2 164,349 161.9,349.1 160,350 158,349.4 156,349 153.9,349.2 152,350 150.1,348.8 148,348 145,347.5 144.5,344.5 143.2,341.9 142.5,339 141.8,336 142.5,333 143.5,330.1 144,327 144,323.8 144,320.5 142.7,317.6 141,315 140.9,311.9 140,309 140.3,306 141,303 141,300.4 140,298 138.5,295.7 138,293 136.7,290.1 136,287 134.7,285.1 134.2,282.9 133,281 132.6,277.8 131,275 130.1,272.9 129.3,270.8 128,269 126.8,266.6"/>
<polygon fill="#ebe5f3" points="124.5,230.5 127.3,231.1 130,232 130.7,229.8 132,228 133.7,226.1 135,224 137.7,223.6 140,222 141.9,221 144,220.5 147,220.3 150,220.5 153,221 155,224 155.6,226.2 155,228.5 156.5,231.5 154.8,233.3 153,235 151.3,236.3 150,238 149,241 148,244 147.5,247.2 146,250 144.8,252.9 144,256 143.4,258.2 142,260 141,259.5 138.7,261 136,261 133,262 130,263 127.9,262.9 126,264 124,264.5 122,264 121.6,261.3 120,259 121.9,256.9 124,255 124.5,252.8 126,251 124.4,248.7 124,246 122.7,243.6 122,241 121.1,238.1 121,235 122.2,232.3"/>
<polygon fill="#f9f3fa" points="170,338 172,339.5 174.6,340.5 177,342 179.6,342.9 182,344 185.1,343.9 188,345 190.9,346.2 194,347 196.2,349.1 199,350 201.5,352 204,354 205,356.4 205,359 206.2,361.4 206,364 205,366 204,368 202.4,369.9 201,372 202,375 200.4,376.7 200,379 199.9,381.5 200,384 198.8,385.8 197,387 195,387.6 193,388 190,390 188.1,388.9 187,387 185.3,385.1 183,384 181,381 181,378.9 182,377 183.6,375.1 185,373 187,370 186.1,368 185,366 182.5,364.5 180,363 178.9,360.7 177,359 175.8,357.2 176,355 174.3,352.7 172,351 170.2,349.2 169,347 167,344 168,342 169.6,340.3"/>
<polygon fill="#f9f3fa" points="105,213.5 108.1,212.7 111,211.5 113.2,209.7 116,209 118.1,208.5 120,207.5 121.2,209.1 123,210 125.8,210.7 128,212.5 127,216 125.6,218.5 124,221 123.7,224 123,227 124.5,230.5 122.2,232.3 121,235 121.1,238.1 122,241 122.7,243.6 124,246 124.4,248.7 126,251 124.5,252.8 124,255 121.9,256.9 120,259 121.6,261.3 122,264 121,266.4 119,268 116.8,269.6 114,270 111.2,271.7 108,272 105.2,270.4 102,270 100.7,267.8 99,266 97.3,263.8 97,261 98,258.1 98,255 96.8,252.6 96,250 96.4,247.5 97,245 97.2,241.9 96,239 94.9,236.1 95,233 96.2,230.1 96,227 96.4,223.8 98,221 100.1,219.1 102,217 103.8,215.5"/>
<polygon fill="#f9f3fa" points="102,270 105.2,270.4 108,272 111.2,271.7 114,270 116.8,269.6 119,268 121,266.4 122,264 124,264.5 126,264 126.8,266.6 128,269 129.3,270.8 130.1,272.9 131,275 132.6,277.8 133,281 134.2,282.9 134.7,285.1 136,287 136.7,290.1 138,293 138.5,295.7 140,298 141,300.4 141,303 140.3,306 140,309 140.9,311.9 141,315 142.7,317.6 144,320.5 141,320 138.3,319.6 136,318 134.2,316.6 132.2,315.6 130,315 127.9,314.2 126.1,312.8 124,312 121,311 118,310 115,309.4 112,309 109,309.3 106,309 103,309.7 100,310 99.8,307.8 101,306 101.2,303.8 100,302 100.5,300 100,298 101.4,295.7 102,293 102.3,289.8 104,287 105.1,284.1 105,281 105.2,277.9 104,275 102.5,272.7"/>
<polygon fill="#cfd0e7" points="100,310 103,309.7 106,309 109,309.3 112,309 115,309.4 118,310 121,311 124,312 126.1,312.8 127.9,314.2 130,315 132.2,315.6 134.2,316.6 136,318 138.3,319.6 141,320 144,320.5 144,323.8 144,327 143.5,330.1 142.5,333 141.8,336 142.5,339 143.2,341.9 144.5,344.5 145,347.5 143.8,349.5 142,351 139.7,352.1 138,354 135.6,355.7 133,357 131.2,359.2 129,361 127.6,363.1 126,365 123,365.3 120,366 117.6,367 115,367 112.8,368.8 111,371 109.6,373.1 108,375 106,376 104.8,373.8 103,372 101.1,370.3 100,368 98.1,366.4 96,365 95.5,362 95,359 93.9,356.1 94,353 92.3,351.1 91,349 89.3,347.3 89,345 89.3,342 90,339 91.2,336.6 92,334 93.1,331.7 95,330 96.8,328.2 99,327 100.2,324.1 101,321 101,317.9 100,315 100.7,312.5"/>
<polygon fill="#a6c1e0" points="121,199.5 124.5,199 129.5,202 132.7,204 132,205 131,209 128,212.5 123,210 121.5,206"/>
</g>
<use href="#gl"/><use href="#rv"/>
</g>
<text class="lg" x="278.5" y="658.2">Legend</text>
<rect class="sw" x="278.3" y="667" width="21" height="9.6" fill="#f9f3fa"/>
<text class="lb" x="302.8" y="675">0.54-0.61</text>
<rect class="sw" x="278.3" y="680.9" width="21" height="9.6" fill="#f7f1f8"/>
<text class="lb" x="302.8" y="688.9">0.61-1.07</text>
<rect class="sw" x="278.3" y="694.7" width="21" height="9.6" fill="#ebe5f3"/>
<text class="lb" x="302.8" y="702.7">1.07-1.29</text>
<rect class="sw" x="278.3" y="708.6" width="21" height="9.6" fill="#cfd0e7"/>
<text class="lb" x="302.8" y="716.6">1.29-1.95</text>
<rect class="sw" x="278.3" y="722.5" width="21" height="9.6" fill="#a6c1e0"/>
<text class="lb" x="302.8" y="730.5">1.95-2.59</text>
<rect class="sw" x="278.3" y="736.4" width="21" height="9.6" fill="#5aa8d0"/>
<text class="lb" x="302.8" y="744.4">2.59-4.10</text>
<rect class="sw" x="278.3" y="750.2" width="21" height="9.6" fill="#0f8ec2"/>
<text class="lb" x="302.8" y="758.2">4.10-10.47</text>
<rect class="sw" x="278.3" y="764.1" width="21" height="9.6" fill="#1073b6"/>
<text class="lb" x="302.8" y="772.1">10.47-16.23</text>
<rect class="sw" x="278.3" y="778" width="21" height="9.6" fill="#0c5088"/>
<text class="lb" x="302.8" y="786">16.23-25.34</text>
<rect class="sw" x="278.3" y="791.8" width="21" height="9.6" fill="#0d5289"/>
<text class="lb" x="302.8" y="799.8">25.34-40.32</text>
<text class="t" font-size="17.9" x="291" y="465.5">(d)ssp5,8-5</text>
</svg>
<text transform="translate(37.2 36.6) scale(.86 1)" text-anchor="middle" font-family="&quot;Liberation Sans&quot;,sans-serif" font-size="14.2" fill="#111" stroke="#111" stroke-width=".45">N</text>
<polygon points="37,40.3 27.5,73 37,61.6" fill="#111" stroke="#111" stroke-width=".8" stroke-linejoin="miter"/>
<polygon points="37,40.3 46.5,72.5 37,61.6" fill="#fff" stroke="#111" stroke-width="1.1" stroke-linejoin="miter"/>
<rect x="412.2" y="798.3" width="96" height="4.7" fill="#fff" stroke="#111" stroke-width=".6"/>
<rect x="412.2" y="798.1" width="6" height="5" fill="#111"/>
<rect x="424.2" y="798.1" width="6" height="5" fill="#111"/>
<rect x="436.2" y="798.1" width="24" height="5" fill="#111"/>
<rect x="484.2" y="798.1" width="24" height="5" fill="#111"/>
<text class="sb" text-anchor="middle" x="418.3" y="794.2">0</text>
<text class="sb" text-anchor="middle" x="430.5" y="794.2">5</text>
<text class="sb" text-anchor="middle" x="442.7" y="794.2">10</text>
<text class="sb" text-anchor="middle" x="466" y="794.2">20</text>
<text class="sb" text-anchor="middle" x="490" y="794.2">30</text>
<text class="sb" text-anchor="middle" x="514.5" y="794.2">40</text>
<text class="sb" x="516.5" y="802.6">Km</text>
<line class="tk" x1="31.6" y1="14" x2="31.6" y2="18"/>
<text class="ax" x="31.6" y="11.4">128°0'0&quot;E</text>
<line class="tk" x1="141" y1="14" x2="141" y2="18"/>
<text class="ax" x="141" y="11.4">129°0'0&quot;E</text>
<line class="tk" x1="250.5" y1="14" x2="250.5" y2="18"/>
<text class="ax" x="250.5" y="11.4">130°0'0&quot;E</text>
<line class="tk" x1="286.5" y1="804" x2="286.5" y2="808.6"/>
<text class="ax" x="286.5" y="816.8">128°0'0&quot;E</text>
<line class="tk" x1="400.5" y1="804" x2="400.5" y2="808.6"/>
<text class="ax" x="400.5" y="816.8">129°0'0&quot;E</text>
<line class="tk" x1="515.3" y1="804" x2="515.3" y2="808.6"/>
<text class="ax" x="515.3" y="816.8">130°0'0&quot;E</text>
<line class="tk" x1="12" y1="159.1" x2="17" y2="159.1"/>
<text class="ax" transform="translate(9.2 160.1) rotate(-90)">48°0'0&quot;N</text>
<line class="tk" x1="12" y1="324.8" x2="17" y2="324.8"/>
<text class="ax" transform="translate(9.2 325.8) rotate(-90)">47°0'0&quot;N</text>
<line class="tk" x1="533.5" y1="554.4" x2="538.8" y2="554.4"/>
<text class="ax" transform="translate(545.6 555.4) rotate(-90)">48°0'0&quot;N</text>
<line class="tk" x1="533.5" y1="719.7" x2="538.8" y2="719.7"/>
<text class="ax" transform="translate(545.6 720.7) rotate(-90)">47°0'0&quot;N</text>
</svg></body></html>
